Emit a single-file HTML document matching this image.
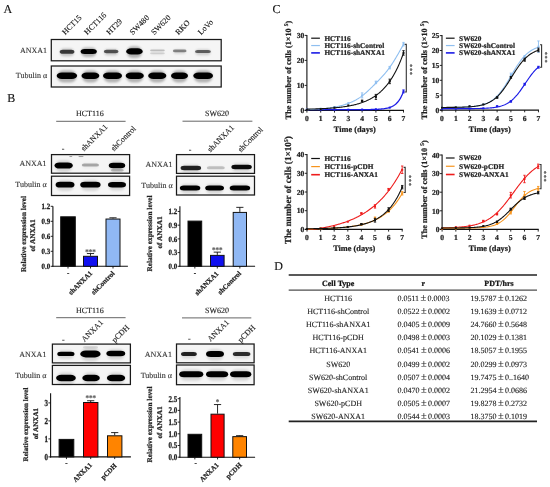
<!DOCTYPE html>
<html><head><meta charset="utf-8"><style>
html,body{margin:0;padding:0;background:#fff;}
svg{display:block;}
text{font-family:'Liberation Serif', 'DejaVu Serif', serif;text-rendering:geometricPrecision;}
</style></head><body>
<svg width="550" height="487" viewBox="0 0 550 487">
<defs><filter id="bl" x="-30%" y="-100%" width="160%" height="300%"><feGaussianBlur stdDeviation="0.65"/></filter><filter id="bl2" x="-30%" y="-100%" width="160%" height="300%"><feGaussianBlur stdDeviation="1.3"/></filter></defs>
<rect width="550" height="487" fill="#fff"/>
<text x="3.60" y="12.80" font-size="12" font-weight="normal" text-anchor="start" fill="#111" stroke="#111" stroke-width="0.12">A</text>
<text x="7.30" y="102.00" font-size="12" font-weight="normal" text-anchor="start" fill="#111" stroke="#111" stroke-width="0.12">B</text>
<text x="272.60" y="12.80" font-size="12" font-weight="normal" text-anchor="start" fill="#111" stroke="#111" stroke-width="0.12">C</text>
<text x="274.20" y="269.80" font-size="12" font-weight="normal" text-anchor="start" fill="#111" stroke="#111" stroke-width="0.12">D</text>
<text x="47.10" y="52.90" font-size="8" font-weight="normal" text-anchor="end" fill="#333" stroke="#333" stroke-width="0.12">ANXA1</text>
<text x="47.10" y="77.60" font-size="8" font-weight="normal" text-anchor="end" fill="#333" stroke="#333" stroke-width="0.12">Tubulin α</text>
<rect x="51.30" y="39.50" width="169.90" height="21.30" fill="#f5f5f5" stroke="#1a1a1a" stroke-width="1.25"/>
<rect x="51.30" y="66.00" width="169.90" height="21.00" fill="#f5f5f5" stroke="#1a1a1a" stroke-width="1.25"/>
<rect x="60.20" y="48.60" width="13.70" height="7.60" rx="3.80" fill="#000" fill-opacity="0.202" filter="url(#bl2)"/>
<rect x="59.70" y="49.70" width="14.70" height="4.00" rx="3.20" ry="2.00" fill="#000" fill-opacity="0.72" filter="url(#bl)"/>
<rect x="81.10" y="47.45" width="15.20" height="9.50" rx="4.75" fill="#000" fill-opacity="0.280" filter="url(#bl2)"/>
<rect x="80.60" y="49.00" width="16.20" height="5.00" rx="4.00" ry="2.50" fill="#000" fill-opacity="1" filter="url(#bl)"/>
<rect x="104.30" y="48.97" width="13.70" height="6.46" rx="3.23" fill="#000" fill-opacity="0.174" filter="url(#bl2)"/>
<rect x="103.80" y="49.80" width="14.70" height="3.40" rx="2.72" ry="1.70" fill="#000" fill-opacity="0.62" filter="url(#bl)"/>
<rect x="126.70" y="46.21" width="15.50" height="11.78" rx="5.89" fill="#000" fill-opacity="0.280" filter="url(#bl2)"/>
<rect x="126.20" y="48.30" width="16.50" height="6.20" rx="4.96" ry="3.10" fill="#000" fill-opacity="1" filter="url(#bl)"/>
<rect x="150.60" y="49.58" width="13.70" height="3.04" rx="1.52" fill="#000" fill-opacity="0.056" filter="url(#bl2)"/>
<rect x="150.10" y="49.60" width="14.70" height="1.60" rx="1.28" ry="0.80" fill="#000" fill-opacity="0.2" filter="url(#bl)"/>
<rect x="150.60" y="52.58" width="13.70" height="3.04" rx="1.52" fill="#000" fill-opacity="0.034" filter="url(#bl2)"/>
<rect x="150.10" y="52.60" width="14.70" height="1.60" rx="1.28" ry="0.80" fill="#000" fill-opacity="0.12" filter="url(#bl)"/>
<rect x="173.40" y="49.13" width="12.60" height="4.94" rx="2.47" fill="#000" fill-opacity="0.118" filter="url(#bl2)"/>
<rect x="172.90" y="49.60" width="13.60" height="2.60" rx="2.08" ry="1.30" fill="#000" fill-opacity="0.42" filter="url(#bl)"/>
<rect x="195.50" y="49.16" width="14.90" height="6.08" rx="3.04" fill="#000" fill-opacity="0.157" filter="url(#bl2)"/>
<rect x="195.00" y="49.90" width="15.90" height="3.20" rx="2.56" ry="1.60" fill="#000" fill-opacity="0.56" filter="url(#bl)"/>
<rect x="57.20" y="70.23" width="19.40" height="12.35" rx="6.17" fill="#000" fill-opacity="0.280" filter="url(#bl2)"/>
<rect x="56.70" y="72.45" width="20.40" height="6.50" rx="5.20" ry="3.25" fill="#000" fill-opacity="1" filter="url(#bl)"/>
<rect x="82.00" y="70.23" width="16.80" height="12.35" rx="6.17" fill="#000" fill-opacity="0.280" filter="url(#bl2)"/>
<rect x="81.50" y="72.45" width="17.80" height="6.50" rx="5.20" ry="3.25" fill="#000" fill-opacity="1" filter="url(#bl)"/>
<rect x="103.50" y="70.23" width="18.00" height="12.35" rx="6.17" fill="#000" fill-opacity="0.280" filter="url(#bl2)"/>
<rect x="103.00" y="72.45" width="19.00" height="6.50" rx="5.20" ry="3.25" fill="#000" fill-opacity="1" filter="url(#bl)"/>
<rect x="126.20" y="70.23" width="17.10" height="12.35" rx="6.17" fill="#000" fill-opacity="0.280" filter="url(#bl2)"/>
<rect x="125.70" y="72.45" width="18.10" height="6.50" rx="5.20" ry="3.25" fill="#000" fill-opacity="1" filter="url(#bl)"/>
<rect x="148.70" y="70.23" width="17.10" height="12.35" rx="6.17" fill="#000" fill-opacity="0.280" filter="url(#bl2)"/>
<rect x="148.20" y="72.45" width="18.10" height="6.50" rx="5.20" ry="3.25" fill="#000" fill-opacity="1" filter="url(#bl)"/>
<rect x="171.50" y="70.23" width="16.00" height="12.35" rx="6.17" fill="#000" fill-opacity="0.280" filter="url(#bl2)"/>
<rect x="171.00" y="72.45" width="17.00" height="6.50" rx="5.20" ry="3.25" fill="#000" fill-opacity="1" filter="url(#bl)"/>
<rect x="193.80" y="70.23" width="18.70" height="12.35" rx="6.17" fill="#000" fill-opacity="0.280" filter="url(#bl2)"/>
<rect x="193.30" y="72.45" width="19.70" height="6.50" rx="5.20" ry="3.25" fill="#000" fill-opacity="1" filter="url(#bl)"/>
<text x="0.00" y="0.00" font-size="8" font-weight="normal" text-anchor="start" fill="#111" transform="translate(65.20,35.20) rotate(-45)" stroke="#111" stroke-width="0.12">HCT15</text>
<text x="0.00" y="0.00" font-size="8" font-weight="normal" text-anchor="start" fill="#111" transform="translate(87.30,35.20) rotate(-45)" stroke="#111" stroke-width="0.12">HCT116</text>
<text x="0.00" y="0.00" font-size="8" font-weight="normal" text-anchor="start" fill="#111" transform="translate(109.50,35.20) rotate(-45)" stroke="#111" stroke-width="0.12">HT29</text>
<text x="0.00" y="0.00" font-size="8" font-weight="normal" text-anchor="start" fill="#111" transform="translate(132.80,35.20) rotate(-45)" stroke="#111" stroke-width="0.12">SW480</text>
<text x="0.00" y="0.00" font-size="8" font-weight="normal" text-anchor="start" fill="#111" transform="translate(154.30,35.20) rotate(-45)" stroke="#111" stroke-width="0.12">SW620</text>
<text x="0.00" y="0.00" font-size="8" font-weight="normal" text-anchor="start" fill="#111" transform="translate(178.40,35.20) rotate(-45)" stroke="#111" stroke-width="0.12">RKO</text>
<text x="0.00" y="0.00" font-size="8" font-weight="normal" text-anchor="start" fill="#111" transform="translate(201.10,35.20) rotate(-45)" stroke="#111" stroke-width="0.12">LoVo</text>
<text x="89.80" y="116.00" font-size="8" font-weight="normal" text-anchor="middle" fill="#222" stroke="#222" stroke-width="0.12">HCT116</text>
<line x1="56.20" y1="121.30" x2="125.60" y2="121.30" stroke="#555" stroke-width="0.9"/>
<text x="63.00" y="150.80" font-size="8" font-weight="normal" text-anchor="middle" fill="#222" stroke="#222" stroke-width="0.12">-</text>
<text x="0.00" y="0.00" font-size="8" font-weight="normal" text-anchor="start" fill="#222" transform="translate(84.00,151.50) rotate(-45)" stroke="#222" stroke-width="0.12">shANXA1</text>
<text x="0.00" y="0.00" font-size="8" font-weight="normal" text-anchor="start" fill="#222" transform="translate(114.00,151.50) rotate(-45)" stroke="#222" stroke-width="0.12">shControl</text>
<text x="46.60" y="166.30" font-size="8" font-weight="normal" text-anchor="end" fill="#333" stroke="#333" stroke-width="0.12">ANXA1</text>
<text x="46.60" y="187.30" font-size="8" font-weight="normal" text-anchor="end" fill="#333" stroke="#333" stroke-width="0.12">Tubulin α</text>
<rect x="51.50" y="154.60" width="78.10" height="18.60" fill="#f5f5f5" stroke="#1a1a1a" stroke-width="1.25"/>
<rect x="51.50" y="176.20" width="78.10" height="19.30" fill="#f5f5f5" stroke="#1a1a1a" stroke-width="1.25"/>
<rect x="55.00" y="160.31" width="17.30" height="11.78" rx="5.89" fill="#000" fill-opacity="0.130" filter="url(#bl2)"/>
<rect x="54.50" y="162.40" width="18.30" height="6.20" rx="4.96" ry="3.10" fill="#000" fill-opacity="1" filter="url(#bl)"/>
<rect x="82.30" y="162.85" width="16.20" height="5.70" rx="2.85" fill="#000" fill-opacity="0.039" filter="url(#bl2)"/>
<rect x="81.80" y="163.50" width="17.20" height="3.00" rx="2.40" ry="1.50" fill="#000" fill-opacity="0.3" filter="url(#bl)"/>
<rect x="109.30" y="160.97" width="15.40" height="10.45" rx="5.22" fill="#000" fill-opacity="0.130" filter="url(#bl2)"/>
<rect x="108.80" y="162.75" width="16.40" height="5.50" rx="4.40" ry="2.75" fill="#000" fill-opacity="1" filter="url(#bl)"/>
<rect x="111.50" y="168.52" width="11.50" height="4.75" rx="2.38" fill="#000" fill-opacity="0.026" filter="url(#bl2)"/>
<rect x="111.00" y="168.95" width="12.50" height="2.50" rx="2.00" ry="1.25" fill="#000" fill-opacity="0.2" filter="url(#bl)"/>
<rect x="69.80" y="156.35" width="2.00" height="1.90" rx="0.95" fill="#000" fill-opacity="0.045" filter="url(#bl2)"/>
<rect x="69.30" y="156.10" width="3.00" height="1.00" rx="0.80" ry="0.50" fill="#000" fill-opacity="0.35" filter="url(#bl)"/>
<rect x="79.00" y="156.35" width="4.00" height="1.90" rx="0.95" fill="#000" fill-opacity="0.045" filter="url(#bl2)"/>
<rect x="78.50" y="156.10" width="5.00" height="1.00" rx="0.80" ry="0.50" fill="#000" fill-opacity="0.35" filter="url(#bl)"/>
<rect x="56.10" y="179.89" width="17.90" height="11.02" rx="5.51" fill="#000" fill-opacity="0.130" filter="url(#bl2)"/>
<rect x="55.60" y="181.80" width="18.90" height="5.80" rx="4.64" ry="2.90" fill="#000" fill-opacity="1" filter="url(#bl)"/>
<rect x="80.70" y="179.89" width="19.40" height="11.02" rx="5.51" fill="#000" fill-opacity="0.130" filter="url(#bl2)"/>
<rect x="80.20" y="181.80" width="20.40" height="5.80" rx="4.64" ry="2.90" fill="#000" fill-opacity="1" filter="url(#bl)"/>
<rect x="108.50" y="180.17" width="17.00" height="10.45" rx="5.22" fill="#000" fill-opacity="0.130" filter="url(#bl2)"/>
<rect x="108.00" y="181.95" width="18.00" height="5.50" rx="4.40" ry="2.75" fill="#000" fill-opacity="1" filter="url(#bl)"/>
<text x="217.00" y="116.40" font-size="8" font-weight="normal" text-anchor="middle" fill="#222" stroke="#222" stroke-width="0.12">SW620</text>
<line x1="182.50" y1="121.20" x2="252.40" y2="121.20" stroke="#555" stroke-width="0.9"/>
<text x="190.20" y="151.70" font-size="8" font-weight="normal" text-anchor="middle" fill="#222" stroke="#222" stroke-width="0.12">-</text>
<text x="0.00" y="0.00" font-size="8" font-weight="normal" text-anchor="start" fill="#222" transform="translate(210.50,152.40) rotate(-45)" stroke="#222" stroke-width="0.12">shANXA1</text>
<text x="0.00" y="0.00" font-size="8" font-weight="normal" text-anchor="start" fill="#222" transform="translate(241.00,152.40) rotate(-45)" stroke="#222" stroke-width="0.12">shControl</text>
<text x="172.60" y="166.70" font-size="8" font-weight="normal" text-anchor="end" fill="#333" stroke="#333" stroke-width="0.12">ANXA1</text>
<text x="172.60" y="187.60" font-size="8" font-weight="normal" text-anchor="end" fill="#333" stroke="#333" stroke-width="0.12">Tubulin α</text>
<rect x="176.50" y="154.60" width="78.00" height="18.80" fill="#f5f5f5" stroke="#1a1a1a" stroke-width="1.25"/>
<rect x="176.50" y="176.20" width="78.00" height="18.80" fill="#f5f5f5" stroke="#1a1a1a" stroke-width="1.25"/>
<rect x="181.10" y="164.42" width="19.50" height="8.55" rx="4.27" fill="#000" fill-opacity="0.111" filter="url(#bl2)"/>
<rect x="180.60" y="165.75" width="20.50" height="4.50" rx="3.60" ry="2.25" fill="#000" fill-opacity="0.85" filter="url(#bl)"/>
<rect x="207.30" y="165.55" width="17.00" height="5.70" rx="2.85" fill="#000" fill-opacity="0.026" filter="url(#bl2)"/>
<rect x="206.80" y="166.20" width="18.00" height="3.00" rx="2.40" ry="1.50" fill="#000" fill-opacity="0.2" filter="url(#bl)"/>
<rect x="231.90" y="163.32" width="19.40" height="8.55" rx="4.27" fill="#000" fill-opacity="0.123" filter="url(#bl2)"/>
<rect x="231.40" y="164.65" width="20.40" height="4.50" rx="3.60" ry="2.25" fill="#000" fill-opacity="0.95" filter="url(#bl)"/>
<rect x="180.30" y="183.95" width="19.50" height="9.50" rx="4.75" fill="#000" fill-opacity="0.130" filter="url(#bl2)"/>
<rect x="179.80" y="185.50" width="20.50" height="5.00" rx="4.00" ry="2.50" fill="#000" fill-opacity="1" filter="url(#bl)"/>
<rect x="205.70" y="183.95" width="17.80" height="9.50" rx="4.75" fill="#000" fill-opacity="0.130" filter="url(#bl2)"/>
<rect x="205.20" y="185.50" width="18.80" height="5.00" rx="4.00" ry="2.50" fill="#000" fill-opacity="1" filter="url(#bl)"/>
<rect x="230.20" y="183.95" width="19.50" height="9.50" rx="4.75" fill="#000" fill-opacity="0.130" filter="url(#bl2)"/>
<rect x="229.70" y="185.50" width="20.50" height="5.00" rx="4.00" ry="2.50" fill="#000" fill-opacity="1" filter="url(#bl)"/>
<text x="89.80" y="313.10" font-size="8" font-weight="normal" text-anchor="middle" fill="#222" stroke="#222" stroke-width="0.12">HCT116</text>
<line x1="56.20" y1="317.70" x2="125.60" y2="317.70" stroke="#555" stroke-width="0.9"/>
<text x="63.40" y="341.60" font-size="8" font-weight="normal" text-anchor="middle" fill="#222" stroke="#222" stroke-width="0.12">-</text>
<text x="0.00" y="0.00" font-size="8" font-weight="normal" text-anchor="start" fill="#222" transform="translate(84.50,342.20) rotate(-45)" stroke="#222" stroke-width="0.12">ANXA1</text>
<text x="0.00" y="0.00" font-size="8" font-weight="normal" text-anchor="start" fill="#222" transform="translate(115.00,342.90) rotate(-45)" stroke="#222" stroke-width="0.12">pCDH</text>
<text x="46.40" y="356.50" font-size="8" font-weight="normal" text-anchor="end" fill="#333" stroke="#333" stroke-width="0.12">ANXA1</text>
<text x="46.40" y="377.80" font-size="8" font-weight="normal" text-anchor="end" fill="#333" stroke="#333" stroke-width="0.12">Tubulin α</text>
<rect x="52.40" y="344.10" width="78.00" height="18.80" fill="#f5f5f5" stroke="#1a1a1a" stroke-width="1.25"/>
<rect x="52.40" y="365.40" width="78.00" height="19.10" fill="#f5f5f5" stroke="#1a1a1a" stroke-width="1.25"/>
<rect x="57.80" y="350.42" width="16.20" height="8.36" rx="4.18" fill="#000" fill-opacity="0.130" filter="url(#bl2)"/>
<rect x="57.30" y="351.70" width="17.20" height="4.40" rx="3.52" ry="2.20" fill="#000" fill-opacity="1" filter="url(#bl)"/>
<rect x="80.70" y="347.95" width="19.40" height="13.30" rx="6.65" fill="#000" fill-opacity="0.130" filter="url(#bl2)"/>
<rect x="80.20" y="350.40" width="20.40" height="7.00" rx="5.60" ry="3.50" fill="#000" fill-opacity="1" filter="url(#bl)"/>
<rect x="106.90" y="349.07" width="17.80" height="10.45" rx="5.22" fill="#000" fill-opacity="0.130" filter="url(#bl2)"/>
<rect x="106.40" y="350.85" width="18.80" height="5.50" rx="4.40" ry="2.75" fill="#000" fill-opacity="1" filter="url(#bl)"/>
<rect x="83.50" y="345.62" width="14.00" height="4.75" rx="2.38" fill="#000" fill-opacity="0.013" filter="url(#bl2)"/>
<rect x="83.00" y="346.05" width="15.00" height="2.50" rx="2.00" ry="1.25" fill="#000" fill-opacity="0.1" filter="url(#bl)"/>
<rect x="56.60" y="372.52" width="18.70" height="12.35" rx="6.17" fill="#000" fill-opacity="0.130" filter="url(#bl2)"/>
<rect x="56.10" y="374.75" width="19.70" height="6.50" rx="5.20" ry="3.25" fill="#000" fill-opacity="1" filter="url(#bl)"/>
<rect x="82.80" y="372.52" width="16.50" height="12.35" rx="6.17" fill="#000" fill-opacity="0.130" filter="url(#bl2)"/>
<rect x="82.30" y="374.75" width="17.50" height="6.50" rx="5.20" ry="3.25" fill="#000" fill-opacity="1" filter="url(#bl)"/>
<rect x="107.40" y="372.52" width="17.30" height="12.35" rx="6.17" fill="#000" fill-opacity="0.130" filter="url(#bl2)"/>
<rect x="106.90" y="374.75" width="18.30" height="6.50" rx="5.20" ry="3.25" fill="#000" fill-opacity="1" filter="url(#bl)"/>
<text x="217.00" y="313.30" font-size="8" font-weight="normal" text-anchor="middle" fill="#222" stroke="#222" stroke-width="0.12">SW620</text>
<line x1="182.00" y1="317.90" x2="251.30" y2="317.90" stroke="#555" stroke-width="0.9"/>
<text x="189.40" y="341.20" font-size="8" font-weight="normal" text-anchor="middle" fill="#222" stroke="#222" stroke-width="0.12">-</text>
<text x="0.00" y="0.00" font-size="8" font-weight="normal" text-anchor="start" fill="#222" transform="translate(210.50,342.10) rotate(-45)" stroke="#222" stroke-width="0.12">ANXA1</text>
<text x="0.00" y="0.00" font-size="8" font-weight="normal" text-anchor="start" fill="#222" transform="translate(241.00,342.90) rotate(-45)" stroke="#222" stroke-width="0.12">pCDH</text>
<text x="171.90" y="356.90" font-size="8" font-weight="normal" text-anchor="end" fill="#333" stroke="#333" stroke-width="0.12">ANXA1</text>
<text x="171.90" y="377.90" font-size="8" font-weight="normal" text-anchor="end" fill="#333" stroke="#333" stroke-width="0.12">Tubulin α</text>
<rect x="176.50" y="344.00" width="77.60" height="18.80" fill="#f5f5f5" stroke="#1a1a1a" stroke-width="1.25"/>
<rect x="176.50" y="365.00" width="77.60" height="19.70" fill="#f5f5f5" stroke="#1a1a1a" stroke-width="1.25"/>
<rect x="181.50" y="350.90" width="14.80" height="7.60" rx="3.80" fill="#000" fill-opacity="0.111" filter="url(#bl2)"/>
<rect x="181.00" y="352.00" width="15.80" height="4.00" rx="3.20" ry="2.00" fill="#000" fill-opacity="0.85" filter="url(#bl)"/>
<rect x="206.50" y="349.00" width="17.00" height="11.40" rx="5.70" fill="#000" fill-opacity="0.130" filter="url(#bl2)"/>
<rect x="206.00" y="351.00" width="18.00" height="6.00" rx="4.80" ry="3.00" fill="#000" fill-opacity="1" filter="url(#bl)"/>
<rect x="233.30" y="350.90" width="16.60" height="7.60" rx="3.80" fill="#000" fill-opacity="0.104" filter="url(#bl2)"/>
<rect x="232.80" y="352.00" width="17.60" height="4.00" rx="3.20" ry="2.00" fill="#000" fill-opacity="0.8" filter="url(#bl)"/>
<rect x="179.70" y="369.30" width="23.10" height="11.40" rx="5.70" fill="#000" fill-opacity="0.130" filter="url(#bl2)"/>
<rect x="179.20" y="371.30" width="24.10" height="6.00" rx="4.80" ry="3.00" fill="#000" fill-opacity="1" filter="url(#bl)"/>
<rect x="206.50" y="369.30" width="21.20" height="11.40" rx="5.70" fill="#000" fill-opacity="0.130" filter="url(#bl2)"/>
<rect x="206.00" y="371.30" width="22.20" height="6.00" rx="4.80" ry="3.00" fill="#000" fill-opacity="1" filter="url(#bl)"/>
<rect x="230.50" y="369.30" width="20.30" height="11.40" rx="5.70" fill="#000" fill-opacity="0.130" filter="url(#bl2)"/>
<rect x="230.00" y="371.30" width="21.30" height="6.00" rx="4.80" ry="3.00" fill="#000" fill-opacity="1" filter="url(#bl)"/>
<line x1="52.90" y1="206.20" x2="52.90" y2="266.80" stroke="#111" stroke-width="1.1"/>
<line x1="52.40" y1="266.30" x2="127.90" y2="266.30" stroke="#111" stroke-width="1.1"/>
<line x1="50.70" y1="266.30" x2="52.90" y2="266.30" stroke="#111" stroke-width="0.9"/>
<text x="0.00" y="0.00" font-size="7" font-weight="bold" text-anchor="end" fill="#222" transform="translate(50.30,268.94) scale(1,1.15)" stroke="#222" stroke-width="0.22">0.0</text>
<line x1="50.70" y1="251.30" x2="52.90" y2="251.30" stroke="#111" stroke-width="0.9"/>
<text x="0.00" y="0.00" font-size="7" font-weight="bold" text-anchor="end" fill="#222" transform="translate(50.30,253.95) scale(1,1.15)" stroke="#222" stroke-width="0.22">0.3</text>
<line x1="50.70" y1="236.30" x2="52.90" y2="236.30" stroke="#111" stroke-width="0.9"/>
<text x="0.00" y="0.00" font-size="7" font-weight="bold" text-anchor="end" fill="#222" transform="translate(50.30,238.95) scale(1,1.15)" stroke="#222" stroke-width="0.22">0.6</text>
<line x1="50.70" y1="221.30" x2="52.90" y2="221.30" stroke="#111" stroke-width="0.9"/>
<text x="0.00" y="0.00" font-size="7" font-weight="bold" text-anchor="end" fill="#222" transform="translate(50.30,223.95) scale(1,1.15)" stroke="#222" stroke-width="0.22">0.9</text>
<line x1="50.70" y1="206.30" x2="52.90" y2="206.30" stroke="#111" stroke-width="0.9"/>
<text x="0.00" y="0.00" font-size="7" font-weight="bold" text-anchor="end" fill="#222" transform="translate(50.30,208.95) scale(1,1.15)" stroke="#222" stroke-width="0.22">1.2</text>
<rect x="60.70" y="216.80" width="14.60" height="49.50" fill="#000" stroke="#111" stroke-width="1"/>
<line x1="68.00" y1="266.30" x2="68.00" y2="268.50" stroke="#111" stroke-width="0.9"/>
<line x1="90.50" y1="255.80" x2="90.50" y2="253.55" stroke="#111" stroke-width="0.9"/>
<line x1="86.90" y1="253.55" x2="94.10" y2="253.55" stroke="#111" stroke-width="0.9"/>
<rect x="83.50" y="256.30" width="14.00" height="10.00" fill="#1010f0" stroke="#111" stroke-width="1"/>
<line x1="90.50" y1="266.30" x2="90.50" y2="268.50" stroke="#111" stroke-width="0.9"/>
<line x1="113.00" y1="218.55" x2="113.00" y2="217.80" stroke="#111" stroke-width="0.9"/>
<line x1="109.40" y1="217.80" x2="116.60" y2="217.80" stroke="#111" stroke-width="0.9"/>
<rect x="106.00" y="219.05" width="14.00" height="47.25" fill="#90b8f4" stroke="#111" stroke-width="1"/>
<line x1="113.00" y1="266.30" x2="113.00" y2="268.50" stroke="#111" stroke-width="0.9"/>
<text x="68.20" y="274.50" font-size="7" font-weight="bold" text-anchor="middle" fill="#222" stroke="#222" stroke-width="0.22">-</text>
<text x="0.00" y="0.00" font-size="7.0" font-weight="bold" text-anchor="end" fill="#222" transform="translate(92.70,273.80) rotate(-45)" stroke="#222" stroke-width="0.22">shANXA1</text>
<text x="0.00" y="0.00" font-size="7.0" font-weight="bold" text-anchor="end" fill="#222" transform="translate(115.20,273.80) rotate(-45)" stroke="#222" stroke-width="0.22">shControl</text>
<text x="0.00" y="0.00" font-size="7.3" font-weight="bold" text-anchor="middle" fill="#222" transform="translate(25.50,234.00) rotate(-90)" stroke="#222" stroke-width="0.22">Relative expression level</text>
<text x="0.00" y="0.00" font-size="7.3" font-weight="bold" text-anchor="middle" fill="#222" transform="translate(35.00,235.50) rotate(-90)" stroke="#222" stroke-width="0.22">of ANXA1</text>
<text x="90.50" y="254.20" font-size="7" font-weight="bold" text-anchor="middle" fill="#666" stroke="#666" stroke-width="0.22">***</text>
<line x1="179.90" y1="206.30" x2="179.90" y2="266.80" stroke="#111" stroke-width="1.1"/>
<line x1="179.40" y1="266.30" x2="255.10" y2="266.30" stroke="#111" stroke-width="1.1"/>
<line x1="177.70" y1="266.30" x2="179.90" y2="266.30" stroke="#111" stroke-width="0.9"/>
<text x="0.00" y="0.00" font-size="7" font-weight="bold" text-anchor="end" fill="#222" transform="translate(177.30,268.94) scale(1,1.15)" stroke="#222" stroke-width="0.22">0.0</text>
<line x1="177.70" y1="252.59" x2="179.90" y2="252.59" stroke="#111" stroke-width="0.9"/>
<text x="0.00" y="0.00" font-size="7" font-weight="bold" text-anchor="end" fill="#222" transform="translate(177.30,255.24) scale(1,1.15)" stroke="#222" stroke-width="0.22">0.3</text>
<line x1="177.70" y1="238.88" x2="179.90" y2="238.88" stroke="#111" stroke-width="0.9"/>
<text x="0.00" y="0.00" font-size="7" font-weight="bold" text-anchor="end" fill="#222" transform="translate(177.30,241.53) scale(1,1.15)" stroke="#222" stroke-width="0.22">0.6</text>
<line x1="177.70" y1="225.17" x2="179.90" y2="225.17" stroke="#111" stroke-width="0.9"/>
<text x="0.00" y="0.00" font-size="7" font-weight="bold" text-anchor="end" fill="#222" transform="translate(177.30,227.82) scale(1,1.15)" stroke="#222" stroke-width="0.22">0.9</text>
<line x1="177.70" y1="211.46" x2="179.90" y2="211.46" stroke="#111" stroke-width="0.9"/>
<text x="0.00" y="0.00" font-size="7" font-weight="bold" text-anchor="end" fill="#222" transform="translate(177.30,214.11) scale(1,1.15)" stroke="#222" stroke-width="0.22">1.2</text>
<rect x="188.00" y="221.10" width="13.70" height="45.20" fill="#000" stroke="#111" stroke-width="1"/>
<line x1="194.85" y1="266.30" x2="194.85" y2="268.50" stroke="#111" stroke-width="0.9"/>
<line x1="217.30" y1="254.88" x2="217.30" y2="252.13" stroke="#111" stroke-width="0.9"/>
<line x1="213.70" y1="252.13" x2="220.90" y2="252.13" stroke="#111" stroke-width="0.9"/>
<rect x="210.50" y="255.38" width="13.60" height="10.93" fill="#1010f0" stroke="#111" stroke-width="1"/>
<line x1="217.30" y1="266.30" x2="217.30" y2="268.50" stroke="#111" stroke-width="0.9"/>
<line x1="239.85" y1="211.92" x2="239.85" y2="207.35" stroke="#111" stroke-width="0.9"/>
<line x1="236.25" y1="207.35" x2="243.45" y2="207.35" stroke="#111" stroke-width="0.9"/>
<rect x="233.20" y="212.42" width="13.30" height="53.88" fill="#90b8f4" stroke="#111" stroke-width="1"/>
<line x1="239.85" y1="266.30" x2="239.85" y2="268.50" stroke="#111" stroke-width="0.9"/>
<text x="195.00" y="274.50" font-size="7" font-weight="bold" text-anchor="middle" fill="#222" stroke="#222" stroke-width="0.22">-</text>
<text x="0.00" y="0.00" font-size="7.0" font-weight="bold" text-anchor="end" fill="#222" transform="translate(219.00,274.30) rotate(-45)" stroke="#222" stroke-width="0.22">shANXA1</text>
<text x="0.00" y="0.00" font-size="7.0" font-weight="bold" text-anchor="end" fill="#222" transform="translate(241.70,273.80) rotate(-45)" stroke="#222" stroke-width="0.22">shControl</text>
<text x="0.00" y="0.00" font-size="7.3" font-weight="bold" text-anchor="middle" fill="#222" transform="translate(152.30,233.50) rotate(-90)" stroke="#222" stroke-width="0.22">Relative expression level</text>
<text x="0.00" y="0.00" font-size="7.3" font-weight="bold" text-anchor="middle" fill="#222" transform="translate(162.00,232.50) rotate(-90)" stroke="#222" stroke-width="0.22">of ANXA1</text>
<text x="217.30" y="252.00" font-size="7" font-weight="bold" text-anchor="middle" fill="#666" stroke="#666" stroke-width="0.22">***</text>
<line x1="50.60" y1="393.30" x2="50.60" y2="457.40" stroke="#111" stroke-width="1.1"/>
<line x1="50.10" y1="456.90" x2="130.90" y2="456.90" stroke="#111" stroke-width="1.1"/>
<line x1="48.40" y1="456.90" x2="50.60" y2="456.90" stroke="#111" stroke-width="0.9"/>
<text x="0.00" y="0.00" font-size="7" font-weight="bold" text-anchor="end" fill="#222" transform="translate(48.00,459.89) scale(1,1.3)" stroke="#222" stroke-width="0.22">0</text>
<line x1="48.40" y1="438.90" x2="50.60" y2="438.90" stroke="#111" stroke-width="0.9"/>
<text x="0.00" y="0.00" font-size="7" font-weight="bold" text-anchor="end" fill="#222" transform="translate(48.00,441.89) scale(1,1.3)" stroke="#222" stroke-width="0.22">1</text>
<line x1="48.40" y1="420.90" x2="50.60" y2="420.90" stroke="#111" stroke-width="0.9"/>
<text x="0.00" y="0.00" font-size="7" font-weight="bold" text-anchor="end" fill="#222" transform="translate(48.00,423.89) scale(1,1.3)" stroke="#222" stroke-width="0.22">2</text>
<line x1="48.40" y1="402.90" x2="50.60" y2="402.90" stroke="#111" stroke-width="0.9"/>
<text x="0.00" y="0.00" font-size="7" font-weight="bold" text-anchor="end" fill="#222" transform="translate(48.00,405.89) scale(1,1.3)" stroke="#222" stroke-width="0.22">3</text>
<rect x="59.10" y="439.40" width="14.70" height="17.50" fill="#000" stroke="#111" stroke-width="1"/>
<line x1="66.45" y1="456.90" x2="66.45" y2="459.10" stroke="#111" stroke-width="0.9"/>
<line x1="90.70" y1="402.00" x2="90.70" y2="400.74" stroke="#111" stroke-width="0.9"/>
<line x1="87.10" y1="400.74" x2="94.30" y2="400.74" stroke="#111" stroke-width="0.9"/>
<rect x="83.50" y="402.50" width="14.40" height="54.40" fill="#ff0000" stroke="#111" stroke-width="1"/>
<line x1="90.70" y1="456.90" x2="90.70" y2="459.10" stroke="#111" stroke-width="0.9"/>
<line x1="114.70" y1="435.30" x2="114.70" y2="432.60" stroke="#111" stroke-width="0.9"/>
<line x1="111.10" y1="432.60" x2="118.30" y2="432.60" stroke="#111" stroke-width="0.9"/>
<rect x="107.50" y="435.80" width="14.40" height="21.10" fill="#ff8400" stroke="#111" stroke-width="1"/>
<line x1="114.70" y1="456.90" x2="114.70" y2="459.10" stroke="#111" stroke-width="0.9"/>
<text x="66.30" y="464.50" font-size="7" font-weight="bold" text-anchor="middle" fill="#222" stroke="#222" stroke-width="0.22">-</text>
<text x="0.00" y="0.00" font-size="7.0" font-weight="bold" text-anchor="end" fill="#222" transform="translate(92.50,465.60) rotate(-45)" stroke="#222" stroke-width="0.22">ANXA1</text>
<text x="0.00" y="0.00" font-size="7.0" font-weight="bold" text-anchor="end" fill="#222" transform="translate(117.20,466.20) rotate(-45)" stroke="#222" stroke-width="0.22">pCDH</text>
<text x="0.00" y="0.00" font-size="7.1" font-weight="bold" text-anchor="middle" fill="#222" transform="translate(27.50,424.50) rotate(-90)" stroke="#222" stroke-width="0.22">Relative expression level</text>
<text x="0.00" y="0.00" font-size="7.1" font-weight="bold" text-anchor="middle" fill="#222" transform="translate(37.80,423.50) rotate(-90)" stroke="#222" stroke-width="0.22">of ANXA1</text>
<text x="90.70" y="400.00" font-size="7" font-weight="bold" text-anchor="middle" fill="#666" stroke="#666" stroke-width="0.22">***</text>
<line x1="179.90" y1="397.00" x2="179.90" y2="457.70" stroke="#111" stroke-width="1.1"/>
<line x1="179.40" y1="457.20" x2="255.10" y2="457.20" stroke="#111" stroke-width="1.1"/>
<line x1="177.70" y1="457.20" x2="179.90" y2="457.20" stroke="#111" stroke-width="0.9"/>
<text x="0.00" y="0.00" font-size="7" font-weight="bold" text-anchor="end" fill="#222" transform="translate(177.30,460.07) scale(1,1.25)" stroke="#222" stroke-width="0.22">0.0</text>
<line x1="177.70" y1="445.50" x2="179.90" y2="445.50" stroke="#111" stroke-width="0.9"/>
<text x="0.00" y="0.00" font-size="7" font-weight="bold" text-anchor="end" fill="#222" transform="translate(177.30,448.38) scale(1,1.25)" stroke="#222" stroke-width="0.22">0.5</text>
<line x1="177.70" y1="433.80" x2="179.90" y2="433.80" stroke="#111" stroke-width="0.9"/>
<text x="0.00" y="0.00" font-size="7" font-weight="bold" text-anchor="end" fill="#222" transform="translate(177.30,436.68) scale(1,1.25)" stroke="#222" stroke-width="0.22">1.0</text>
<line x1="177.70" y1="422.10" x2="179.90" y2="422.10" stroke="#111" stroke-width="0.9"/>
<text x="0.00" y="0.00" font-size="7" font-weight="bold" text-anchor="end" fill="#222" transform="translate(177.30,424.98) scale(1,1.25)" stroke="#222" stroke-width="0.22">1.5</text>
<line x1="177.70" y1="410.40" x2="179.90" y2="410.40" stroke="#111" stroke-width="0.9"/>
<text x="0.00" y="0.00" font-size="7" font-weight="bold" text-anchor="end" fill="#222" transform="translate(177.30,413.27) scale(1,1.25)" stroke="#222" stroke-width="0.22">2.0</text>
<line x1="177.70" y1="398.70" x2="179.90" y2="398.70" stroke="#111" stroke-width="0.9"/>
<text x="0.00" y="0.00" font-size="7" font-weight="bold" text-anchor="end" fill="#222" transform="translate(177.30,401.57) scale(1,1.25)" stroke="#222" stroke-width="0.22">2.5</text>
<rect x="188.00" y="434.30" width="13.70" height="22.90" fill="#000" stroke="#111" stroke-width="1"/>
<line x1="194.85" y1="457.20" x2="194.85" y2="459.40" stroke="#111" stroke-width="0.9"/>
<line x1="217.55" y1="413.68" x2="217.55" y2="404.55" stroke="#111" stroke-width="0.9"/>
<line x1="213.95" y1="404.55" x2="221.15" y2="404.55" stroke="#111" stroke-width="0.9"/>
<rect x="211.00" y="414.18" width="13.10" height="43.02" fill="#ff0000" stroke="#111" stroke-width="1"/>
<line x1="217.55" y1="457.20" x2="217.55" y2="459.40" stroke="#111" stroke-width="0.9"/>
<line x1="239.65" y1="436.14" x2="239.65" y2="435.67" stroke="#111" stroke-width="0.9"/>
<line x1="236.05" y1="435.67" x2="243.25" y2="435.67" stroke="#111" stroke-width="0.9"/>
<rect x="232.80" y="436.64" width="13.70" height="20.56" fill="#ff8400" stroke="#111" stroke-width="1"/>
<line x1="239.65" y1="457.20" x2="239.65" y2="459.40" stroke="#111" stroke-width="0.9"/>
<text x="195.60" y="465.00" font-size="7" font-weight="bold" text-anchor="middle" fill="#222" stroke="#222" stroke-width="0.22">-</text>
<text x="0.00" y="0.00" font-size="7.0" font-weight="bold" text-anchor="end" fill="#222" transform="translate(219.20,465.50) rotate(-45)" stroke="#222" stroke-width="0.22">ANXA1</text>
<text x="0.00" y="0.00" font-size="7.0" font-weight="bold" text-anchor="end" fill="#222" transform="translate(242.30,465.50) rotate(-45)" stroke="#222" stroke-width="0.22">pCDH</text>
<text x="0.00" y="0.00" font-size="7.3" font-weight="bold" text-anchor="middle" fill="#222" transform="translate(152.30,424.50) rotate(-90)" stroke="#222" stroke-width="0.22">Relative expression level</text>
<text x="0.00" y="0.00" font-size="7.3" font-weight="bold" text-anchor="middle" fill="#222" transform="translate(162.00,422.50) rotate(-90)" stroke="#222" stroke-width="0.22">of ANXA1</text>
<text x="217.50" y="403.50" font-size="7" font-weight="bold" text-anchor="middle" fill="#666" stroke="#666" stroke-width="0.22">*</text>
<line x1="306.90" y1="34.90" x2="306.90" y2="110.90" stroke="#111" stroke-width="1.1"/>
<line x1="304.70" y1="110.40" x2="404.00" y2="110.40" stroke="#111" stroke-width="1.1"/>
<line x1="304.70" y1="110.40" x2="306.90" y2="110.40" stroke="#111" stroke-width="0.9"/>
<text x="304.30" y="113.10" font-size="7.6" font-weight="bold" text-anchor="end" fill="#222" stroke="#222" stroke-width="0.22">0</text>
<line x1="304.70" y1="85.40" x2="306.90" y2="85.40" stroke="#111" stroke-width="0.9"/>
<text x="304.30" y="88.10" font-size="7.6" font-weight="bold" text-anchor="end" fill="#222" stroke="#222" stroke-width="0.22">10</text>
<line x1="304.70" y1="60.40" x2="306.90" y2="60.40" stroke="#111" stroke-width="0.9"/>
<text x="304.30" y="63.10" font-size="7.6" font-weight="bold" text-anchor="end" fill="#222" stroke="#222" stroke-width="0.22">20</text>
<line x1="304.70" y1="35.40" x2="306.90" y2="35.40" stroke="#111" stroke-width="0.9"/>
<text x="304.30" y="38.10" font-size="7.6" font-weight="bold" text-anchor="end" fill="#222" stroke="#222" stroke-width="0.22">30</text>
<line x1="306.90" y1="110.40" x2="306.90" y2="112.60" stroke="#111" stroke-width="0.9"/>
<text x="306.90" y="121.00" font-size="7.6" font-weight="bold" text-anchor="middle" fill="#222" stroke="#222" stroke-width="0.22">0</text>
<line x1="320.70" y1="110.40" x2="320.70" y2="112.60" stroke="#111" stroke-width="0.9"/>
<text x="320.70" y="121.00" font-size="7.6" font-weight="bold" text-anchor="middle" fill="#222" stroke="#222" stroke-width="0.22">1</text>
<line x1="334.50" y1="110.40" x2="334.50" y2="112.60" stroke="#111" stroke-width="0.9"/>
<text x="334.50" y="121.00" font-size="7.6" font-weight="bold" text-anchor="middle" fill="#222" stroke="#222" stroke-width="0.22">2</text>
<line x1="348.30" y1="110.40" x2="348.30" y2="112.60" stroke="#111" stroke-width="0.9"/>
<text x="348.30" y="121.00" font-size="7.6" font-weight="bold" text-anchor="middle" fill="#222" stroke="#222" stroke-width="0.22">3</text>
<line x1="362.10" y1="110.40" x2="362.10" y2="112.60" stroke="#111" stroke-width="0.9"/>
<text x="362.10" y="121.00" font-size="7.6" font-weight="bold" text-anchor="middle" fill="#222" stroke="#222" stroke-width="0.22">4</text>
<line x1="375.90" y1="110.40" x2="375.90" y2="112.60" stroke="#111" stroke-width="0.9"/>
<text x="375.90" y="121.00" font-size="7.6" font-weight="bold" text-anchor="middle" fill="#222" stroke="#222" stroke-width="0.22">5</text>
<line x1="389.70" y1="110.40" x2="389.70" y2="112.60" stroke="#111" stroke-width="0.9"/>
<text x="389.70" y="121.00" font-size="7.6" font-weight="bold" text-anchor="middle" fill="#222" stroke="#222" stroke-width="0.22">6</text>
<line x1="403.50" y1="110.40" x2="403.50" y2="112.60" stroke="#111" stroke-width="0.9"/>
<text x="403.50" y="121.00" font-size="7.6" font-weight="bold" text-anchor="middle" fill="#222" stroke="#222" stroke-width="0.22">7</text>
<text x="354.80" y="132.00" font-size="8.3" font-weight="bold" text-anchor="middle" fill="#222" stroke="#222" stroke-width="0.22">Time (days)</text>
<polyline points="306.90,109.65 307.59,109.65 308.28,109.65 308.97,109.65 309.66,109.65 310.35,109.65 311.04,109.65 311.73,109.65 312.42,109.65 313.11,109.65 313.80,109.65 314.49,109.65 315.18,109.65 315.87,109.65 316.56,109.65 317.25,109.65 317.94,109.65 318.63,109.65 319.32,109.65 320.01,109.65 320.70,109.65 321.39,109.65 322.08,109.65 322.77,109.65 323.46,109.65 324.15,109.65 324.84,109.65 325.53,109.65 326.22,109.65 326.91,109.65 327.60,109.65 328.29,109.65 328.98,109.65 329.67,109.65 330.36,109.65 331.05,109.65 331.74,109.65 332.43,109.65 333.12,109.65 333.81,109.65 334.50,109.65 335.19,109.65 335.88,109.65 336.57,109.65 337.26,109.65 337.95,109.65 338.64,109.65 339.33,109.65 340.02,109.65 340.71,109.65 341.40,109.65 342.09,109.65 342.78,109.65 343.47,109.65 344.16,109.65 344.85,109.65 345.54,109.65 346.23,109.65 346.92,109.65 347.61,109.65 348.30,109.65 348.99,109.65 349.68,109.64 350.37,109.64 351.06,109.64 351.75,109.64 352.44,109.64 353.13,109.64 353.82,109.64 354.51,109.64 355.20,109.64 355.89,109.64 356.58,109.64 357.27,109.63 357.96,109.63 358.65,109.63 359.34,109.63 360.03,109.63 360.72,109.62 361.41,109.62 362.10,109.62 362.79,109.61 363.48,109.61 364.17,109.60 364.86,109.60 365.55,109.59 366.24,109.59 366.93,109.58 367.62,109.57 368.31,109.56 369.00,109.55 369.69,109.54 370.38,109.53 371.07,109.52 371.76,109.50 372.45,109.49 373.14,109.47 373.83,109.45 374.52,109.43 375.21,109.40 375.90,109.38 376.59,109.35 377.28,109.31 377.97,109.28 378.66,109.23 379.35,109.19 380.04,109.14 380.73,109.08 381.42,109.02 382.11,108.95 382.80,108.87 383.49,108.78 384.18,108.69 384.87,108.58 385.56,108.46 386.25,108.33 386.94,108.18 387.63,108.02 388.32,107.84 389.01,107.64 389.70,107.42 390.39,107.17 391.08,106.89 391.77,106.59 392.46,106.25 393.15,105.87 393.84,105.45 394.53,104.99 395.22,104.47 395.91,103.90 396.60,103.26 397.29,102.56 397.98,101.77 398.67,100.90 399.36,99.93 400.05,98.85 400.74,97.66 401.43,96.33 402.12,94.86 402.81,93.22 403.50,91.40" fill="none" stroke="#1a1ae6" stroke-width="1.3"/>
<rect x="305.90" y="108.65" width="2.00" height="2.00" fill="#1a1ae6" stroke="none" stroke-width="1"/>
<rect x="319.70" y="108.65" width="2.00" height="2.00" fill="#1a1ae6" stroke="none" stroke-width="1"/>
<rect x="333.50" y="108.65" width="2.00" height="2.00" fill="#1a1ae6" stroke="none" stroke-width="1"/>
<rect x="347.30" y="108.65" width="2.00" height="2.00" fill="#1a1ae6" stroke="none" stroke-width="1"/>
<rect x="361.10" y="108.53" width="2.00" height="2.00" fill="#1a1ae6" stroke="none" stroke-width="1"/>
<rect x="374.90" y="108.28" width="2.00" height="2.00" fill="#1a1ae6" stroke="none" stroke-width="1"/>
<rect x="388.70" y="106.65" width="2.00" height="2.00" fill="#1a1ae6" stroke="none" stroke-width="1"/>
<line x1="403.50" y1="89.90" x2="403.50" y2="92.90" stroke="#1a1ae6" stroke-width="0.9"/>
<line x1="402.30" y1="89.90" x2="404.70" y2="89.90" stroke="#1a1ae6" stroke-width="0.9"/>
<line x1="402.30" y1="92.90" x2="404.70" y2="92.90" stroke="#1a1ae6" stroke-width="0.9"/>
<rect x="402.50" y="90.40" width="2.00" height="2.00" fill="#1a1ae6" stroke="none" stroke-width="1"/>
<polyline points="306.90,109.65 307.59,109.62 308.28,109.59 308.97,109.56 309.66,109.53 310.35,109.50 311.04,109.47 311.73,109.44 312.42,109.41 313.11,109.37 313.80,109.34 314.49,109.30 315.18,109.27 315.87,109.23 316.56,109.19 317.25,109.14 317.94,109.10 318.63,109.05 319.32,109.00 320.01,108.95 320.70,108.90 321.39,108.84 322.08,108.79 322.77,108.72 323.46,108.66 324.15,108.59 324.84,108.52 325.53,108.45 326.22,108.37 326.91,108.29 327.60,108.21 328.29,108.12 328.98,108.03 329.67,107.93 330.36,107.83 331.05,107.73 331.74,107.62 332.43,107.51 333.12,107.40 333.81,107.28 334.50,107.15 335.19,107.02 335.88,106.89 336.57,106.74 337.26,106.60 337.95,106.45 338.64,106.29 339.33,106.13 340.02,105.96 340.71,105.79 341.40,105.61 342.09,105.42 342.78,105.22 343.47,105.02 344.16,104.81 344.85,104.60 345.54,104.37 346.23,104.14 346.92,103.90 347.61,103.66 348.30,103.40 348.99,103.14 349.68,102.86 350.37,102.58 351.06,102.29 351.75,101.98 352.44,101.67 353.13,101.35 353.82,101.01 354.51,100.66 355.20,100.30 355.89,99.93 356.58,99.54 357.27,99.14 357.96,98.72 358.65,98.29 359.34,97.85 360.03,97.38 360.72,96.91 361.41,96.41 362.10,95.90 362.79,95.37 363.48,94.83 364.17,94.26 364.86,93.69 365.55,93.10 366.24,92.49 366.93,91.88 367.62,91.25 368.31,90.61 369.00,89.97 369.69,89.31 370.38,88.64 371.07,87.97 371.76,87.30 372.45,86.61 373.14,85.93 373.83,85.24 374.52,84.54 375.21,83.85 375.90,83.15 376.59,82.45 377.28,81.76 377.97,81.05 378.66,80.35 379.35,79.64 380.04,78.92 380.73,78.20 381.42,77.46 382.11,76.71 382.80,75.96 383.49,75.18 384.18,74.40 384.87,73.59 385.56,72.77 386.25,71.93 386.94,71.07 387.63,70.19 388.32,69.29 389.01,68.36 389.70,67.40 390.39,66.42 391.08,65.41 391.77,64.38 392.46,63.32 393.15,62.24 393.84,61.15 394.53,60.03 395.22,58.90 395.91,57.74 396.60,56.58 397.29,55.40 397.98,54.21 398.67,53.01 399.36,51.79 400.05,50.57 400.74,49.35 401.43,48.12 402.12,46.88 402.81,45.64 403.50,44.40" fill="none" stroke="#8fbff0" stroke-width="1.1"/>
<rect x="305.90" y="108.65" width="2.00" height="2.00" fill="#8fbff0" stroke="none" stroke-width="1"/>
<rect x="319.70" y="107.65" width="2.00" height="2.00" fill="#8fbff0" stroke="none" stroke-width="1"/>
<rect x="333.50" y="106.15" width="2.00" height="2.00" fill="#8fbff0" stroke="none" stroke-width="1"/>
<rect x="347.30" y="102.15" width="2.00" height="2.00" fill="#8fbff0" stroke="none" stroke-width="1"/>
<line x1="362.10" y1="92.90" x2="362.10" y2="97.90" stroke="#8fbff0" stroke-width="0.9"/>
<line x1="360.90" y1="92.90" x2="363.30" y2="92.90" stroke="#8fbff0" stroke-width="0.9"/>
<line x1="360.90" y1="97.90" x2="363.30" y2="97.90" stroke="#8fbff0" stroke-width="0.9"/>
<rect x="361.10" y="94.40" width="2.00" height="2.00" fill="#8fbff0" stroke="none" stroke-width="1"/>
<line x1="375.90" y1="81.15" x2="375.90" y2="83.65" stroke="#8fbff0" stroke-width="0.9"/>
<line x1="374.70" y1="81.15" x2="377.10" y2="81.15" stroke="#8fbff0" stroke-width="0.9"/>
<line x1="374.70" y1="83.65" x2="377.10" y2="83.65" stroke="#8fbff0" stroke-width="0.9"/>
<rect x="374.90" y="81.40" width="2.00" height="2.00" fill="#8fbff0" stroke="none" stroke-width="1"/>
<line x1="389.70" y1="66.40" x2="389.70" y2="68.90" stroke="#8fbff0" stroke-width="0.9"/>
<line x1="388.50" y1="66.40" x2="390.90" y2="66.40" stroke="#8fbff0" stroke-width="0.9"/>
<line x1="388.50" y1="68.90" x2="390.90" y2="68.90" stroke="#8fbff0" stroke-width="0.9"/>
<rect x="388.70" y="66.65" width="2.00" height="2.00" fill="#8fbff0" stroke="none" stroke-width="1"/>
<line x1="403.50" y1="42.40" x2="403.50" y2="45.90" stroke="#8fbff0" stroke-width="0.9"/>
<line x1="402.30" y1="42.40" x2="404.70" y2="42.40" stroke="#8fbff0" stroke-width="0.9"/>
<line x1="402.30" y1="45.90" x2="404.70" y2="45.90" stroke="#8fbff0" stroke-width="0.9"/>
<rect x="402.50" y="43.15" width="2.00" height="2.00" fill="#8fbff0" stroke="none" stroke-width="1"/>
<polyline points="306.90,109.15 307.59,109.14 308.28,109.12 308.97,109.11 309.66,109.09 310.35,109.07 311.04,109.05 311.73,109.03 312.42,109.01 313.11,108.99 313.80,108.97 314.49,108.95 315.18,108.93 315.87,108.90 316.56,108.88 317.25,108.86 317.94,108.83 318.63,108.80 319.32,108.77 320.01,108.75 320.70,108.72 321.39,108.68 322.08,108.65 322.77,108.62 323.46,108.58 324.15,108.55 324.84,108.51 325.53,108.47 326.22,108.43 326.91,108.39 327.60,108.35 328.29,108.31 328.98,108.26 329.67,108.21 330.36,108.17 331.05,108.12 331.74,108.06 332.43,108.01 333.12,107.95 333.81,107.90 334.50,107.84 335.19,107.77 335.88,107.71 336.57,107.64 337.26,107.57 337.95,107.50 338.64,107.43 339.33,107.35 340.02,107.27 340.71,107.19 341.40,107.11 342.09,107.02 342.78,106.93 343.47,106.83 344.16,106.73 344.85,106.63 345.54,106.53 346.23,106.42 346.92,106.31 347.61,106.19 348.30,106.07 348.99,105.95 349.68,105.82 350.37,105.69 351.06,105.55 351.75,105.41 352.44,105.26 353.13,105.10 353.82,104.95 354.51,104.78 355.20,104.61 355.89,104.44 356.58,104.25 357.27,104.07 357.96,103.87 358.65,103.67 359.34,103.46 360.03,103.24 360.72,103.02 361.41,102.79 362.10,102.54 362.79,102.30 363.48,102.04 364.17,101.77 364.86,101.49 365.55,101.21 366.24,100.91 366.93,100.61 367.62,100.29 368.31,99.96 369.00,99.62 369.69,99.27 370.38,98.90 371.07,98.52 371.76,98.13 372.45,97.73 373.14,97.31 373.83,96.88 374.52,96.43 375.21,95.96 375.90,95.48 376.59,94.98 377.28,94.47 377.97,93.93 378.66,93.38 379.35,92.80 380.04,92.21 380.73,91.60 381.42,90.96 382.11,90.30 382.80,89.62 383.49,88.92 384.18,88.19 384.87,87.43 385.56,86.65 386.25,85.84 386.94,85.00 387.63,84.13 388.32,83.23 389.01,82.30 389.70,81.33 390.39,80.34 391.08,79.30 391.77,78.23 392.46,77.12 393.15,75.98 393.84,74.79 394.53,73.56 395.22,72.29 395.91,70.97 396.60,69.61 397.29,68.19 397.98,66.73 398.67,65.22 399.36,63.65 400.05,62.03 400.74,60.35 401.43,58.61 402.12,56.81 402.81,54.94 403.50,53.01" fill="none" stroke="#111" stroke-width="1.1"/>
<rect x="305.90" y="108.90" width="2.00" height="2.00" fill="#111" stroke="none" stroke-width="1"/>
<rect x="319.70" y="108.15" width="2.00" height="2.00" fill="#111" stroke="none" stroke-width="1"/>
<rect x="333.50" y="106.65" width="2.00" height="2.00" fill="#111" stroke="none" stroke-width="1"/>
<rect x="347.30" y="104.40" width="2.00" height="2.00" fill="#111" stroke="none" stroke-width="1"/>
<line x1="362.10" y1="100.15" x2="362.10" y2="101.65" stroke="#111" stroke-width="0.9"/>
<line x1="360.90" y1="100.15" x2="363.30" y2="100.15" stroke="#111" stroke-width="0.9"/>
<line x1="360.90" y1="101.65" x2="363.30" y2="101.65" stroke="#111" stroke-width="0.9"/>
<rect x="361.10" y="99.90" width="2.00" height="2.00" fill="#111" stroke="none" stroke-width="1"/>
<line x1="375.90" y1="94.40" x2="375.90" y2="99.40" stroke="#111" stroke-width="0.9"/>
<line x1="374.70" y1="94.40" x2="377.10" y2="94.40" stroke="#111" stroke-width="0.9"/>
<line x1="374.70" y1="99.40" x2="377.10" y2="99.40" stroke="#111" stroke-width="0.9"/>
<rect x="374.90" y="95.90" width="2.00" height="2.00" fill="#111" stroke="none" stroke-width="1"/>
<line x1="389.70" y1="79.15" x2="389.70" y2="83.65" stroke="#111" stroke-width="0.9"/>
<line x1="388.50" y1="79.15" x2="390.90" y2="79.15" stroke="#111" stroke-width="0.9"/>
<line x1="388.50" y1="83.65" x2="390.90" y2="83.65" stroke="#111" stroke-width="0.9"/>
<rect x="388.70" y="80.40" width="2.00" height="2.00" fill="#111" stroke="none" stroke-width="1"/>
<line x1="403.50" y1="50.65" x2="403.50" y2="55.15" stroke="#111" stroke-width="0.9"/>
<line x1="402.30" y1="50.65" x2="404.70" y2="50.65" stroke="#111" stroke-width="0.9"/>
<line x1="402.30" y1="55.15" x2="404.70" y2="55.15" stroke="#111" stroke-width="0.9"/>
<rect x="402.50" y="51.90" width="2.00" height="2.00" fill="#111" stroke="none" stroke-width="1"/>
<line x1="311.20" y1="38.20" x2="319.90" y2="38.20" stroke="#111" stroke-width="1.2"/>
<text x="324.40" y="40.50" font-size="7.3" font-weight="bold" text-anchor="start" fill="#222" stroke="#222" stroke-width="0.22">HCT116</text>
<line x1="311.20" y1="45.55" x2="319.90" y2="45.55" stroke="#8fbff0" stroke-width="1.2"/>
<text x="324.40" y="47.85" font-size="7.3" font-weight="bold" text-anchor="start" fill="#222" stroke="#222" stroke-width="0.22">HCT116-shControl</text>
<line x1="311.20" y1="52.90" x2="319.90" y2="52.90" stroke="#1a1ae6" stroke-width="1.6"/>
<text x="324.40" y="55.20" font-size="7.3" font-weight="bold" text-anchor="start" fill="#222" stroke="#222" stroke-width="0.22">HCT116-shANXA1</text>
<polyline points="404.70,44.40 406.30,44.40 406.30,92.00 404.70,92.00" fill="none" stroke="#333" stroke-width="1.1"/>
<text x="0.00" y="0.00" font-size="6.6" font-weight="bold" text-anchor="middle" fill="#222" transform="translate(407.70,69.90) rotate(90)" letter-spacing="0.6">***</text>
<text x="0.00" y="0.00" font-size="8.2" font-weight="bold" text-anchor="middle" fill="#222" transform="translate(290.50,70.00) rotate(-90)" stroke="#222" stroke-width="0.22">The number of cells (1×10 <tspan dy="-3" font-size="5.5">5</tspan><tspan dy="3">)</tspan></text>
<line x1="442.00" y1="35.10" x2="442.00" y2="110.60" stroke="#111" stroke-width="1.1"/>
<line x1="439.80" y1="110.10" x2="538.96" y2="110.10" stroke="#111" stroke-width="1.1"/>
<line x1="439.80" y1="110.10" x2="442.00" y2="110.10" stroke="#111" stroke-width="0.9"/>
<text x="439.40" y="112.80" font-size="7.6" font-weight="bold" text-anchor="end" fill="#222" stroke="#222" stroke-width="0.22">0</text>
<line x1="439.80" y1="95.20" x2="442.00" y2="95.20" stroke="#111" stroke-width="0.9"/>
<text x="439.40" y="97.90" font-size="7.6" font-weight="bold" text-anchor="end" fill="#222" stroke="#222" stroke-width="0.22">5</text>
<line x1="439.80" y1="80.30" x2="442.00" y2="80.30" stroke="#111" stroke-width="0.9"/>
<text x="439.40" y="83.00" font-size="7.6" font-weight="bold" text-anchor="end" fill="#222" stroke="#222" stroke-width="0.22">10</text>
<line x1="439.80" y1="65.40" x2="442.00" y2="65.40" stroke="#111" stroke-width="0.9"/>
<text x="439.40" y="68.10" font-size="7.6" font-weight="bold" text-anchor="end" fill="#222" stroke="#222" stroke-width="0.22">15</text>
<line x1="439.80" y1="50.50" x2="442.00" y2="50.50" stroke="#111" stroke-width="0.9"/>
<text x="439.40" y="53.20" font-size="7.6" font-weight="bold" text-anchor="end" fill="#222" stroke="#222" stroke-width="0.22">20</text>
<line x1="439.80" y1="35.60" x2="442.00" y2="35.60" stroke="#111" stroke-width="0.9"/>
<text x="439.40" y="38.30" font-size="7.6" font-weight="bold" text-anchor="end" fill="#222" stroke="#222" stroke-width="0.22">25</text>
<line x1="442.00" y1="110.10" x2="442.00" y2="112.30" stroke="#111" stroke-width="0.9"/>
<text x="442.00" y="120.70" font-size="7.6" font-weight="bold" text-anchor="middle" fill="#222" stroke="#222" stroke-width="0.22">0</text>
<line x1="455.78" y1="110.10" x2="455.78" y2="112.30" stroke="#111" stroke-width="0.9"/>
<text x="455.78" y="120.70" font-size="7.6" font-weight="bold" text-anchor="middle" fill="#222" stroke="#222" stroke-width="0.22">1</text>
<line x1="469.56" y1="110.10" x2="469.56" y2="112.30" stroke="#111" stroke-width="0.9"/>
<text x="469.56" y="120.70" font-size="7.6" font-weight="bold" text-anchor="middle" fill="#222" stroke="#222" stroke-width="0.22">2</text>
<line x1="483.34" y1="110.10" x2="483.34" y2="112.30" stroke="#111" stroke-width="0.9"/>
<text x="483.34" y="120.70" font-size="7.6" font-weight="bold" text-anchor="middle" fill="#222" stroke="#222" stroke-width="0.22">3</text>
<line x1="497.12" y1="110.10" x2="497.12" y2="112.30" stroke="#111" stroke-width="0.9"/>
<text x="497.12" y="120.70" font-size="7.6" font-weight="bold" text-anchor="middle" fill="#222" stroke="#222" stroke-width="0.22">4</text>
<line x1="510.90" y1="110.10" x2="510.90" y2="112.30" stroke="#111" stroke-width="0.9"/>
<text x="510.90" y="120.70" font-size="7.6" font-weight="bold" text-anchor="middle" fill="#222" stroke="#222" stroke-width="0.22">5</text>
<line x1="524.68" y1="110.10" x2="524.68" y2="112.30" stroke="#111" stroke-width="0.9"/>
<text x="524.68" y="120.70" font-size="7.6" font-weight="bold" text-anchor="middle" fill="#222" stroke="#222" stroke-width="0.22">6</text>
<line x1="538.46" y1="110.10" x2="538.46" y2="112.30" stroke="#111" stroke-width="0.9"/>
<text x="538.46" y="120.70" font-size="7.6" font-weight="bold" text-anchor="middle" fill="#222" stroke="#222" stroke-width="0.22">7</text>
<text x="489.83" y="131.80" font-size="8.3" font-weight="bold" text-anchor="middle" fill="#222" stroke="#222" stroke-width="0.22">Time (days)</text>
<polyline points="442.00,108.66 442.69,108.66 443.38,108.66 444.07,108.66 444.76,108.66 445.44,108.66 446.13,108.66 446.82,108.66 447.51,108.66 448.20,108.66 448.89,108.66 449.58,108.66 450.27,108.66 450.96,108.66 451.65,108.66 452.33,108.66 453.02,108.66 453.71,108.66 454.40,108.66 455.09,108.66 455.78,108.65 456.47,108.65 457.16,108.65 457.85,108.65 458.54,108.65 459.23,108.65 459.91,108.65 460.60,108.65 461.29,108.64 461.98,108.64 462.67,108.64 463.36,108.64 464.05,108.64 464.74,108.63 465.43,108.63 466.12,108.63 466.80,108.62 467.49,108.62 468.18,108.61 468.87,108.61 469.56,108.61 470.25,108.60 470.94,108.59 471.63,108.59 472.32,108.58 473.00,108.57 473.69,108.57 474.38,108.56 475.07,108.55 475.76,108.54 476.45,108.53 477.14,108.51 477.83,108.50 478.52,108.49 479.21,108.47 479.89,108.45 480.58,108.44 481.27,108.42 481.96,108.40 482.65,108.37 483.34,108.35 484.03,108.32 484.72,108.29 485.41,108.26 486.10,108.22 486.78,108.18 487.47,108.14 488.16,108.10 488.85,108.05 489.54,107.99 490.23,107.94 490.92,107.87 491.61,107.81 492.30,107.73 492.99,107.65 493.68,107.57 494.36,107.47 495.05,107.37 495.74,107.26 496.43,107.15 497.12,107.02 497.81,106.88 498.50,106.73 499.19,106.57 499.88,106.40 500.56,106.21 501.25,106.01 501.94,105.79 502.63,105.55 503.32,105.30 504.01,105.03 504.70,104.74 505.39,104.43 506.08,104.09 506.77,103.73 507.45,103.35 508.14,102.94 508.83,102.51 509.52,102.04 510.21,101.55 510.90,101.03 511.59,100.47 512.28,99.89 512.97,99.27 513.66,98.62 514.35,97.93 515.03,97.22 515.72,96.47 516.41,95.68 517.10,94.87 517.79,94.02 518.48,93.15 519.17,92.25 519.86,91.32 520.55,90.37 521.24,89.39 521.92,88.40 522.61,87.39 523.30,86.38 523.99,85.35 524.68,84.32 525.37,83.28 526.06,82.25 526.75,81.22 527.44,80.20 528.12,79.20 528.81,78.21 529.50,77.24 530.19,76.29 530.88,75.36 531.57,74.46 532.26,73.58 532.95,72.74 533.64,71.93 534.33,71.15 535.01,70.40 535.70,69.68 536.39,69.00 537.08,68.35 537.77,67.74 538.46,67.15" fill="none" stroke="#1a1ae6" stroke-width="1.15"/>
<rect x="441.00" y="107.91" width="2.00" height="2.00" fill="#1a1ae6" stroke="none" stroke-width="1"/>
<rect x="454.78" y="107.91" width="2.00" height="2.00" fill="#1a1ae6" stroke="none" stroke-width="1"/>
<rect x="468.56" y="107.61" width="2.00" height="2.00" fill="#1a1ae6" stroke="none" stroke-width="1"/>
<rect x="482.34" y="107.31" width="2.00" height="2.00" fill="#1a1ae6" stroke="none" stroke-width="1"/>
<line x1="497.12" y1="105.93" x2="497.12" y2="106.52" stroke="#1a1ae6" stroke-width="0.9"/>
<line x1="495.92" y1="105.93" x2="498.32" y2="105.93" stroke="#1a1ae6" stroke-width="0.9"/>
<line x1="495.92" y1="106.52" x2="498.32" y2="106.52" stroke="#1a1ae6" stroke-width="0.9"/>
<rect x="496.12" y="105.23" width="2.00" height="2.00" fill="#1a1ae6" stroke="none" stroke-width="1"/>
<line x1="510.90" y1="100.86" x2="510.90" y2="102.05" stroke="#1a1ae6" stroke-width="0.9"/>
<line x1="509.70" y1="100.86" x2="512.10" y2="100.86" stroke="#1a1ae6" stroke-width="0.9"/>
<line x1="509.70" y1="102.05" x2="512.10" y2="102.05" stroke="#1a1ae6" stroke-width="0.9"/>
<rect x="509.90" y="100.46" width="2.00" height="2.00" fill="#1a1ae6" stroke="none" stroke-width="1"/>
<line x1="524.68" y1="83.28" x2="524.68" y2="85.07" stroke="#1a1ae6" stroke-width="0.9"/>
<line x1="523.48" y1="83.28" x2="525.88" y2="83.28" stroke="#1a1ae6" stroke-width="0.9"/>
<line x1="523.48" y1="85.07" x2="525.88" y2="85.07" stroke="#1a1ae6" stroke-width="0.9"/>
<rect x="523.68" y="83.17" width="2.00" height="2.00" fill="#1a1ae6" stroke="none" stroke-width="1"/>
<line x1="538.46" y1="66.29" x2="538.46" y2="68.08" stroke="#1a1ae6" stroke-width="0.9"/>
<line x1="537.26" y1="66.29" x2="539.66" y2="66.29" stroke="#1a1ae6" stroke-width="0.9"/>
<line x1="537.26" y1="68.08" x2="539.66" y2="68.08" stroke="#1a1ae6" stroke-width="0.9"/>
<rect x="537.46" y="66.19" width="2.00" height="2.00" fill="#1a1ae6" stroke="none" stroke-width="1"/>
<polyline points="442.00,107.51 442.69,107.50 443.38,107.50 444.07,107.50 444.76,107.49 445.44,107.49 446.13,107.48 446.82,107.48 447.51,107.48 448.20,107.47 448.89,107.47 449.58,107.46 450.27,107.45 450.96,107.45 451.65,107.44 452.33,107.43 453.02,107.42 453.71,107.41 454.40,107.40 455.09,107.39 455.78,107.38 456.47,107.37 457.16,107.35 457.85,107.34 458.54,107.32 459.23,107.31 459.91,107.29 460.60,107.27 461.29,107.25 461.98,107.23 462.67,107.20 463.36,107.18 464.05,107.15 464.74,107.12 465.43,107.09 466.12,107.05 466.80,107.01 467.49,106.97 468.18,106.93 468.87,106.88 469.56,106.83 470.25,106.78 470.94,106.72 471.63,106.66 472.32,106.59 473.00,106.52 473.69,106.44 474.38,106.35 475.07,106.26 475.76,106.17 476.45,106.06 477.14,105.95 477.83,105.83 478.52,105.70 479.21,105.57 479.89,105.42 480.58,105.26 481.27,105.09 481.96,104.91 482.65,104.72 483.34,104.51 484.03,104.29 484.72,104.05 485.41,103.80 486.10,103.52 486.78,103.24 487.47,102.93 488.16,102.60 488.85,102.25 489.54,101.88 490.23,101.48 490.92,101.06 491.61,100.61 492.30,100.14 492.99,99.64 493.68,99.11 494.36,98.55 495.05,97.96 495.74,97.34 496.43,96.69 497.12,96.00 497.81,95.29 498.50,94.53 499.19,93.75 499.88,92.93 500.56,92.07 501.25,91.19 501.94,90.27 502.63,89.32 503.32,88.33 504.01,87.32 504.70,86.28 505.39,85.22 506.08,84.13 506.77,83.02 507.45,81.89 508.14,80.75 508.83,79.59 509.52,78.42 510.21,77.25 510.90,76.07 511.59,74.89 512.28,73.71 512.97,72.54 513.66,71.37 514.35,70.22 515.03,69.09 515.72,67.97 516.41,66.87 517.10,65.79 517.79,64.74 518.48,63.72 519.17,62.73 519.86,61.76 520.55,60.83 521.24,59.92 521.92,59.06 522.61,58.22 523.30,57.42 523.99,56.65 524.68,55.92 525.37,55.22 526.06,54.55 526.75,53.91 527.44,53.31 528.12,52.74 528.81,52.19 529.50,51.68 530.19,51.20 530.88,50.74 531.57,50.31 532.26,49.90 532.95,49.52 533.64,49.16 534.33,48.82 535.01,48.50 535.70,48.20 536.39,47.92 537.08,47.66 537.77,47.42 538.46,47.19" fill="none" stroke="#8fbff0" stroke-width="1.1"/>
<rect x="441.00" y="106.72" width="2.00" height="2.00" fill="#8fbff0" stroke="none" stroke-width="1"/>
<rect x="454.78" y="106.42" width="2.00" height="2.00" fill="#8fbff0" stroke="none" stroke-width="1"/>
<rect x="468.56" y="105.23" width="2.00" height="2.00" fill="#8fbff0" stroke="none" stroke-width="1"/>
<rect x="482.34" y="103.44" width="2.00" height="2.00" fill="#8fbff0" stroke="none" stroke-width="1"/>
<line x1="497.12" y1="96.39" x2="497.12" y2="97.58" stroke="#8fbff0" stroke-width="0.9"/>
<line x1="495.92" y1="96.39" x2="498.32" y2="96.39" stroke="#8fbff0" stroke-width="0.9"/>
<line x1="495.92" y1="97.58" x2="498.32" y2="97.58" stroke="#8fbff0" stroke-width="0.9"/>
<rect x="496.12" y="95.99" width="2.00" height="2.00" fill="#8fbff0" stroke="none" stroke-width="1"/>
<line x1="510.90" y1="73.15" x2="510.90" y2="76.72" stroke="#8fbff0" stroke-width="0.9"/>
<line x1="509.70" y1="73.15" x2="512.10" y2="73.15" stroke="#8fbff0" stroke-width="0.9"/>
<line x1="509.70" y1="76.72" x2="512.10" y2="76.72" stroke="#8fbff0" stroke-width="0.9"/>
<rect x="509.90" y="73.94" width="2.00" height="2.00" fill="#8fbff0" stroke="none" stroke-width="1"/>
<line x1="524.68" y1="55.57" x2="524.68" y2="58.55" stroke="#8fbff0" stroke-width="0.9"/>
<line x1="523.48" y1="55.57" x2="525.88" y2="55.57" stroke="#8fbff0" stroke-width="0.9"/>
<line x1="523.48" y1="58.55" x2="525.88" y2="58.55" stroke="#8fbff0" stroke-width="0.9"/>
<rect x="523.68" y="56.06" width="2.00" height="2.00" fill="#8fbff0" stroke="none" stroke-width="1"/>
<line x1="538.46" y1="40.96" x2="538.46" y2="52.29" stroke="#8fbff0" stroke-width="0.9"/>
<line x1="537.26" y1="40.96" x2="539.66" y2="40.96" stroke="#8fbff0" stroke-width="0.9"/>
<line x1="537.26" y1="52.29" x2="539.66" y2="52.29" stroke="#8fbff0" stroke-width="0.9"/>
<rect x="537.46" y="45.63" width="2.00" height="2.00" fill="#8fbff0" stroke="none" stroke-width="1"/>
<polyline points="442.00,107.45 442.69,107.44 443.38,107.44 444.07,107.44 444.76,107.43 445.44,107.43 446.13,107.43 446.82,107.42 447.51,107.42 448.20,107.41 448.89,107.41 449.58,107.40 450.27,107.40 450.96,107.39 451.65,107.38 452.33,107.37 453.02,107.37 453.71,107.36 454.40,107.35 455.09,107.34 455.78,107.33 456.47,107.31 457.16,107.30 457.85,107.29 458.54,107.27 459.23,107.26 459.91,107.24 460.60,107.22 461.29,107.20 461.98,107.18 462.67,107.15 463.36,107.13 464.05,107.10 464.74,107.07 465.43,107.04 466.12,107.01 466.80,106.97 467.49,106.94 468.18,106.89 468.87,106.85 469.56,106.80 470.25,106.75 470.94,106.69 471.63,106.64 472.32,106.57 473.00,106.50 473.69,106.43 474.38,106.35 475.07,106.27 475.76,106.18 476.45,106.08 477.14,105.97 477.83,105.86 478.52,105.74 479.21,105.61 479.89,105.47 480.58,105.33 481.27,105.17 481.96,105.00 482.65,104.82 483.34,104.62 484.03,104.42 484.72,104.20 485.41,103.96 486.10,103.71 486.78,103.44 487.47,103.15 488.16,102.85 488.85,102.52 489.54,102.18 490.23,101.81 490.92,101.42 491.61,101.01 492.30,100.57 492.99,100.11 493.68,99.62 494.36,99.10 495.05,98.55 495.74,97.98 496.43,97.38 497.12,96.74 497.81,96.08 498.50,95.38 499.19,94.65 499.88,93.89 500.56,93.10 501.25,92.28 501.94,91.43 502.63,90.55 503.32,89.64 504.01,88.70 504.70,87.74 505.39,86.75 506.08,85.73 506.77,84.70 507.45,83.65 508.14,82.58 508.83,81.49 509.52,80.40 510.21,79.30 510.90,78.19 511.59,77.08 512.28,75.97 512.97,74.86 513.66,73.76 514.35,72.67 515.03,71.60 515.72,70.53 516.41,69.49 517.10,68.46 517.79,67.46 518.48,66.47 519.17,65.52 519.86,64.59 520.55,63.69 521.24,62.82 521.92,61.98 522.61,61.17 523.30,60.39 523.99,59.64 524.68,58.93 525.37,58.24 526.06,57.59 526.75,56.97 527.44,56.37 528.12,55.81 528.81,55.27 529.50,54.77 530.19,54.29 530.88,53.83 531.57,53.41 532.26,53.00 532.95,52.62 533.64,52.26 534.33,51.92 535.01,51.61 535.70,51.31 536.39,51.03 537.08,50.77 537.77,50.52 538.46,50.29" fill="none" stroke="#111" stroke-width="1.1"/>
<rect x="441.00" y="106.72" width="2.00" height="2.00" fill="#111" stroke="none" stroke-width="1"/>
<rect x="454.78" y="106.42" width="2.00" height="2.00" fill="#111" stroke="none" stroke-width="1"/>
<rect x="468.56" y="105.23" width="2.00" height="2.00" fill="#111" stroke="none" stroke-width="1"/>
<rect x="482.34" y="103.44" width="2.00" height="2.00" fill="#111" stroke="none" stroke-width="1"/>
<line x1="497.12" y1="96.99" x2="497.12" y2="98.18" stroke="#111" stroke-width="0.9"/>
<line x1="495.92" y1="96.99" x2="498.32" y2="96.99" stroke="#111" stroke-width="0.9"/>
<line x1="495.92" y1="98.18" x2="498.32" y2="98.18" stroke="#111" stroke-width="0.9"/>
<rect x="496.12" y="96.58" width="2.00" height="2.00" fill="#111" stroke="none" stroke-width="1"/>
<line x1="510.90" y1="76.43" x2="510.90" y2="78.21" stroke="#111" stroke-width="0.9"/>
<line x1="509.70" y1="76.43" x2="512.10" y2="76.43" stroke="#111" stroke-width="0.9"/>
<line x1="509.70" y1="78.21" x2="512.10" y2="78.21" stroke="#111" stroke-width="0.9"/>
<rect x="509.90" y="76.32" width="2.00" height="2.00" fill="#111" stroke="none" stroke-width="1"/>
<line x1="524.68" y1="58.25" x2="524.68" y2="61.23" stroke="#111" stroke-width="0.9"/>
<line x1="523.48" y1="58.25" x2="525.88" y2="58.25" stroke="#111" stroke-width="0.9"/>
<line x1="523.48" y1="61.23" x2="525.88" y2="61.23" stroke="#111" stroke-width="0.9"/>
<rect x="523.68" y="58.74" width="2.00" height="2.00" fill="#111" stroke="none" stroke-width="1"/>
<line x1="538.46" y1="48.12" x2="538.46" y2="51.69" stroke="#111" stroke-width="0.9"/>
<line x1="537.26" y1="48.12" x2="539.66" y2="48.12" stroke="#111" stroke-width="0.9"/>
<line x1="537.26" y1="51.69" x2="539.66" y2="51.69" stroke="#111" stroke-width="0.9"/>
<rect x="537.46" y="48.90" width="2.00" height="2.00" fill="#111" stroke="none" stroke-width="1"/>
<line x1="445.90" y1="38.20" x2="454.60" y2="38.20" stroke="#111" stroke-width="1.2"/>
<text x="459.10" y="40.50" font-size="7.3" font-weight="bold" text-anchor="start" fill="#222" stroke="#222" stroke-width="0.22">SW620</text>
<line x1="445.90" y1="45.55" x2="454.60" y2="45.55" stroke="#8fbff0" stroke-width="1.2"/>
<text x="459.10" y="47.85" font-size="7.3" font-weight="bold" text-anchor="start" fill="#222" stroke="#222" stroke-width="0.22">SW620-shControl</text>
<line x1="445.90" y1="52.90" x2="454.60" y2="52.90" stroke="#1a1ae6" stroke-width="1.6"/>
<text x="459.10" y="55.20" font-size="7.3" font-weight="bold" text-anchor="start" fill="#222" stroke="#222" stroke-width="0.22">SW620-shANXA1</text>
<polyline points="540.00,44.70 541.60,44.70 541.60,67.30 540.00,67.30" fill="none" stroke="#333" stroke-width="1.1"/>
<text x="0.00" y="0.00" font-size="6.6" font-weight="bold" text-anchor="middle" fill="#222" transform="translate(543.00,57.50) rotate(90)" letter-spacing="0.6">***</text>
<text x="0.00" y="0.00" font-size="8.2" font-weight="bold" text-anchor="middle" fill="#222" transform="translate(427.40,70.00) rotate(-90)" stroke="#222" stroke-width="0.22">The number of cells (1×10 <tspan dy="-3" font-size="5.5">5</tspan><tspan dy="3">)</tspan></text>
<line x1="307.00" y1="154.10" x2="307.00" y2="229.90" stroke="#111" stroke-width="1.1"/>
<line x1="304.80" y1="229.40" x2="402.70" y2="229.40" stroke="#111" stroke-width="1.1"/>
<line x1="304.80" y1="229.40" x2="307.00" y2="229.40" stroke="#111" stroke-width="0.9"/>
<text x="304.40" y="232.10" font-size="7.6" font-weight="bold" text-anchor="end" fill="#222" stroke="#222" stroke-width="0.22">0</text>
<line x1="304.80" y1="210.70" x2="307.00" y2="210.70" stroke="#111" stroke-width="0.9"/>
<text x="304.40" y="213.40" font-size="7.6" font-weight="bold" text-anchor="end" fill="#222" stroke="#222" stroke-width="0.22">10</text>
<line x1="304.80" y1="192.00" x2="307.00" y2="192.00" stroke="#111" stroke-width="0.9"/>
<text x="304.40" y="194.70" font-size="7.6" font-weight="bold" text-anchor="end" fill="#222" stroke="#222" stroke-width="0.22">20</text>
<line x1="304.80" y1="173.30" x2="307.00" y2="173.30" stroke="#111" stroke-width="0.9"/>
<text x="304.40" y="176.00" font-size="7.6" font-weight="bold" text-anchor="end" fill="#222" stroke="#222" stroke-width="0.22">30</text>
<line x1="304.80" y1="154.60" x2="307.00" y2="154.60" stroke="#111" stroke-width="0.9"/>
<text x="304.40" y="157.30" font-size="7.6" font-weight="bold" text-anchor="end" fill="#222" stroke="#222" stroke-width="0.22">40</text>
<line x1="307.00" y1="229.40" x2="307.00" y2="231.60" stroke="#111" stroke-width="0.9"/>
<text x="307.00" y="240.00" font-size="7.6" font-weight="bold" text-anchor="middle" fill="#222" stroke="#222" stroke-width="0.22">0</text>
<line x1="320.60" y1="229.40" x2="320.60" y2="231.60" stroke="#111" stroke-width="0.9"/>
<text x="320.60" y="240.00" font-size="7.6" font-weight="bold" text-anchor="middle" fill="#222" stroke="#222" stroke-width="0.22">1</text>
<line x1="334.20" y1="229.40" x2="334.20" y2="231.60" stroke="#111" stroke-width="0.9"/>
<text x="334.20" y="240.00" font-size="7.6" font-weight="bold" text-anchor="middle" fill="#222" stroke="#222" stroke-width="0.22">2</text>
<line x1="347.80" y1="229.40" x2="347.80" y2="231.60" stroke="#111" stroke-width="0.9"/>
<text x="347.80" y="240.00" font-size="7.6" font-weight="bold" text-anchor="middle" fill="#222" stroke="#222" stroke-width="0.22">3</text>
<line x1="361.40" y1="229.40" x2="361.40" y2="231.60" stroke="#111" stroke-width="0.9"/>
<text x="361.40" y="240.00" font-size="7.6" font-weight="bold" text-anchor="middle" fill="#222" stroke="#222" stroke-width="0.22">4</text>
<line x1="375.00" y1="229.40" x2="375.00" y2="231.60" stroke="#111" stroke-width="0.9"/>
<text x="375.00" y="240.00" font-size="7.6" font-weight="bold" text-anchor="middle" fill="#222" stroke="#222" stroke-width="0.22">5</text>
<line x1="388.60" y1="229.40" x2="388.60" y2="231.60" stroke="#111" stroke-width="0.9"/>
<text x="388.60" y="240.00" font-size="7.6" font-weight="bold" text-anchor="middle" fill="#222" stroke="#222" stroke-width="0.22">6</text>
<line x1="402.20" y1="229.40" x2="402.20" y2="231.60" stroke="#111" stroke-width="0.9"/>
<text x="402.20" y="240.00" font-size="7.6" font-weight="bold" text-anchor="middle" fill="#222" stroke="#222" stroke-width="0.22">7</text>
<text x="354.20" y="250.80" font-size="8.3" font-weight="bold" text-anchor="middle" fill="#222" stroke="#222" stroke-width="0.22">Time (days)</text>
<polyline points="307.00,229.25 307.68,229.25 308.36,229.25 309.04,229.25 309.72,229.25 310.40,229.25 311.08,229.25 311.76,229.25 312.44,229.25 313.12,229.25 313.80,229.25 314.48,229.17 315.16,229.08 315.84,228.98 316.52,228.88 317.20,228.78 317.88,228.67 318.56,228.57 319.24,228.46 319.92,228.35 320.60,228.24 321.28,228.12 321.96,228.00 322.64,227.88 323.32,227.76 324.00,227.63 324.68,227.51 325.36,227.38 326.04,227.24 326.72,227.11 327.40,226.97 328.08,226.83 328.76,226.68 329.44,226.54 330.12,226.39 330.80,226.23 331.48,226.08 332.16,225.92 332.84,225.75 333.52,225.59 334.20,225.42 334.88,225.24 335.56,225.07 336.24,224.89 336.92,224.70 337.60,224.51 338.28,224.32 338.96,224.13 339.64,223.93 340.32,223.72 341.00,223.51 341.68,223.30 342.36,223.08 343.04,222.86 343.72,222.64 344.40,222.41 345.08,222.17 345.76,221.93 346.44,221.69 347.12,221.43 347.80,221.18 348.48,220.92 349.16,220.65 349.84,220.38 350.52,220.10 351.20,219.82 351.88,219.53 352.56,219.24 353.24,218.94 353.92,218.63 354.60,218.32 355.28,218.00 355.96,217.67 356.64,217.34 357.32,217.00 358.00,216.65 358.68,216.30 359.36,215.94 360.04,215.57 360.72,215.19 361.40,214.81 362.08,214.42 362.76,214.02 363.44,213.61 364.12,213.20 364.80,212.77 365.48,212.34 366.16,211.89 366.84,211.44 367.52,210.98 368.20,210.51 368.88,210.03 369.56,209.54 370.24,209.04 370.92,208.53 371.60,208.01 372.28,207.48 372.96,206.93 373.64,206.38 374.32,205.82 375.00,205.24 375.68,204.65 376.36,204.05 377.04,203.44 377.72,202.81 378.40,202.17 379.08,201.52 379.76,200.85 380.44,200.18 381.12,199.48 381.80,198.78 382.48,198.05 383.16,197.32 383.84,196.57 384.52,195.80 385.20,195.01 385.88,194.22 386.56,193.40 387.24,192.57 387.92,191.72 388.60,190.85 389.28,189.97 389.96,189.06 390.64,188.14 391.32,187.20 392.00,186.24 392.68,185.26 393.36,184.26 394.04,183.24 394.72,182.20 395.40,181.14 396.08,180.05 396.76,178.94 397.44,177.81 398.12,176.66 398.80,175.48 399.48,174.28 400.16,173.06 400.84,171.81 401.52,170.53 402.20,169.23" fill="none" stroke="#ee1c1c" stroke-width="1.1"/>
<rect x="306.00" y="228.03" width="2.00" height="2.00" fill="#ee1c1c" stroke="none" stroke-width="1"/>
<rect x="319.60" y="227.47" width="2.00" height="2.00" fill="#ee1c1c" stroke="none" stroke-width="1"/>
<rect x="333.20" y="225.41" width="2.00" height="2.00" fill="#ee1c1c" stroke="none" stroke-width="1"/>
<rect x="346.80" y="220.73" width="2.00" height="2.00" fill="#ee1c1c" stroke="none" stroke-width="1"/>
<line x1="361.40" y1="212.76" x2="361.40" y2="213.88" stroke="#ee1c1c" stroke-width="0.9"/>
<line x1="360.20" y1="212.76" x2="362.60" y2="212.76" stroke="#ee1c1c" stroke-width="0.9"/>
<line x1="360.20" y1="213.88" x2="362.60" y2="213.88" stroke="#ee1c1c" stroke-width="0.9"/>
<rect x="360.40" y="212.32" width="2.00" height="2.00" fill="#ee1c1c" stroke="none" stroke-width="1"/>
<line x1="375.00" y1="204.72" x2="375.00" y2="208.08" stroke="#ee1c1c" stroke-width="0.9"/>
<line x1="373.80" y1="204.72" x2="376.20" y2="204.72" stroke="#ee1c1c" stroke-width="0.9"/>
<line x1="373.80" y1="208.08" x2="376.20" y2="208.08" stroke="#ee1c1c" stroke-width="0.9"/>
<rect x="374.00" y="205.40" width="2.00" height="2.00" fill="#ee1c1c" stroke="none" stroke-width="1"/>
<line x1="388.60" y1="188.45" x2="388.60" y2="190.32" stroke="#ee1c1c" stroke-width="0.9"/>
<line x1="387.40" y1="188.45" x2="389.80" y2="188.45" stroke="#ee1c1c" stroke-width="0.9"/>
<line x1="387.40" y1="190.32" x2="389.80" y2="190.32" stroke="#ee1c1c" stroke-width="0.9"/>
<rect x="387.60" y="188.38" width="2.00" height="2.00" fill="#ee1c1c" stroke="none" stroke-width="1"/>
<line x1="402.20" y1="166.01" x2="402.20" y2="173.49" stroke="#ee1c1c" stroke-width="0.9"/>
<line x1="401.00" y1="166.01" x2="403.40" y2="166.01" stroke="#ee1c1c" stroke-width="0.9"/>
<line x1="401.00" y1="173.49" x2="403.40" y2="173.49" stroke="#ee1c1c" stroke-width="0.9"/>
<rect x="401.20" y="168.75" width="2.00" height="2.00" fill="#ee1c1c" stroke="none" stroke-width="1"/>
<polyline points="307.00,228.94 307.68,228.93 308.36,228.92 309.04,228.91 309.72,228.90 310.40,228.89 311.08,228.87 311.76,228.86 312.44,228.85 313.12,228.83 313.80,228.82 314.48,228.80 315.16,228.79 315.84,228.77 316.52,228.76 317.20,228.74 317.88,228.72 318.56,228.70 319.24,228.68 319.92,228.66 320.60,228.64 321.28,228.62 321.96,228.60 322.64,228.58 323.32,228.56 324.00,228.53 324.68,228.51 325.36,228.48 326.04,228.45 326.72,228.43 327.40,228.40 328.08,228.37 328.76,228.34 329.44,228.31 330.12,228.27 330.80,228.24 331.48,228.21 332.16,228.17 332.84,228.13 333.52,228.09 334.20,228.05 334.88,228.01 335.56,227.97 336.24,227.93 336.92,227.88 337.60,227.83 338.28,227.78 338.96,227.73 339.64,227.68 340.32,227.63 341.00,227.57 341.68,227.51 342.36,227.45 343.04,227.39 343.72,227.32 344.40,227.26 345.08,227.19 345.76,227.12 346.44,227.04 347.12,226.97 347.80,226.89 348.48,226.81 349.16,226.72 349.84,226.63 350.52,226.54 351.20,226.45 351.88,226.35 352.56,226.25 353.24,226.15 353.92,226.04 354.60,225.93 355.28,225.82 355.96,225.70 356.64,225.57 357.32,225.45 358.00,225.32 358.68,225.18 359.36,225.04 360.04,224.89 360.72,224.74 361.40,224.59 362.08,224.42 362.76,224.26 363.44,224.08 364.12,223.91 364.80,223.72 365.48,223.53 366.16,223.33 366.84,223.13 367.52,222.91 368.20,222.69 368.88,222.47 369.56,222.23 370.24,221.99 370.92,221.74 371.60,221.48 372.28,221.21 372.96,220.93 373.64,220.64 374.32,220.35 375.00,220.04 375.68,219.72 376.36,219.39 377.04,219.05 377.72,218.69 378.40,218.33 379.08,217.95 379.76,217.56 380.44,217.16 381.12,216.74 381.80,216.30 382.48,215.86 383.16,215.39 383.84,214.91 384.52,214.42 385.20,213.90 385.88,213.37 386.56,212.82 387.24,212.25 387.92,211.66 388.60,211.06 389.28,210.43 389.96,209.77 390.64,209.10 391.32,208.40 392.00,207.68 392.68,206.94 393.36,206.16 394.04,205.36 394.72,204.54 395.40,203.68 396.08,202.80 396.76,201.88 397.44,200.93 398.12,199.95 398.80,198.94 399.48,197.89 400.16,196.80 400.84,195.68 401.52,194.52 402.20,193.32" fill="none" stroke="#f7941d" stroke-width="1.1"/>
<rect x="306.00" y="228.03" width="2.00" height="2.00" fill="#f7941d" stroke="none" stroke-width="1"/>
<rect x="319.60" y="227.65" width="2.00" height="2.00" fill="#f7941d" stroke="none" stroke-width="1"/>
<rect x="333.20" y="226.90" width="2.00" height="2.00" fill="#f7941d" stroke="none" stroke-width="1"/>
<rect x="346.80" y="225.97" width="2.00" height="2.00" fill="#f7941d" stroke="none" stroke-width="1"/>
<line x1="361.40" y1="223.98" x2="361.40" y2="225.10" stroke="#f7941d" stroke-width="0.9"/>
<line x1="360.20" y1="223.98" x2="362.60" y2="223.98" stroke="#f7941d" stroke-width="0.9"/>
<line x1="360.20" y1="225.10" x2="362.60" y2="225.10" stroke="#f7941d" stroke-width="0.9"/>
<rect x="360.40" y="223.54" width="2.00" height="2.00" fill="#f7941d" stroke="none" stroke-width="1"/>
<line x1="375.00" y1="217.06" x2="375.00" y2="219.30" stroke="#f7941d" stroke-width="0.9"/>
<line x1="373.80" y1="217.06" x2="376.20" y2="217.06" stroke="#f7941d" stroke-width="0.9"/>
<line x1="373.80" y1="219.30" x2="376.20" y2="219.30" stroke="#f7941d" stroke-width="0.9"/>
<rect x="374.00" y="217.18" width="2.00" height="2.00" fill="#f7941d" stroke="none" stroke-width="1"/>
<line x1="388.60" y1="209.95" x2="388.60" y2="212.20" stroke="#f7941d" stroke-width="0.9"/>
<line x1="387.40" y1="209.95" x2="389.80" y2="209.95" stroke="#f7941d" stroke-width="0.9"/>
<line x1="387.40" y1="212.20" x2="389.80" y2="212.20" stroke="#f7941d" stroke-width="0.9"/>
<rect x="387.60" y="210.07" width="2.00" height="2.00" fill="#f7941d" stroke="none" stroke-width="1"/>
<line x1="402.20" y1="191.63" x2="402.20" y2="194.99" stroke="#f7941d" stroke-width="0.9"/>
<line x1="401.00" y1="191.63" x2="403.40" y2="191.63" stroke="#f7941d" stroke-width="0.9"/>
<line x1="401.00" y1="194.99" x2="403.40" y2="194.99" stroke="#f7941d" stroke-width="0.9"/>
<rect x="401.20" y="192.31" width="2.00" height="2.00" fill="#f7941d" stroke="none" stroke-width="1"/>
<polyline points="307.00,228.76 307.68,228.75 308.36,228.75 309.04,228.74 309.72,228.73 310.40,228.72 311.08,228.71 311.76,228.70 312.44,228.69 313.12,228.68 313.80,228.67 314.48,228.66 315.16,228.65 315.84,228.63 316.52,228.62 317.20,228.61 317.88,228.59 318.56,228.58 319.24,228.57 319.92,228.55 320.60,228.53 321.28,228.52 321.96,228.50 322.64,228.48 323.32,228.46 324.00,228.44 324.68,228.42 325.36,228.40 326.04,228.38 326.72,228.36 327.40,228.34 328.08,228.31 328.76,228.29 329.44,228.26 330.12,228.23 330.80,228.20 331.48,228.17 332.16,228.14 332.84,228.11 333.52,228.08 334.20,228.04 334.88,228.01 335.56,227.97 336.24,227.93 336.92,227.89 337.60,227.85 338.28,227.81 338.96,227.76 339.64,227.72 340.32,227.67 341.00,227.62 341.68,227.57 342.36,227.51 343.04,227.46 343.72,227.40 344.40,227.34 345.08,227.27 345.76,227.21 346.44,227.14 347.12,227.07 347.80,226.99 348.48,226.92 349.16,226.84 349.84,226.76 350.52,226.67 351.20,226.58 351.88,226.49 352.56,226.39 353.24,226.29 353.92,226.19 354.60,226.08 355.28,225.97 355.96,225.85 356.64,225.73 357.32,225.60 358.00,225.47 358.68,225.34 359.36,225.20 360.04,225.05 360.72,224.90 361.40,224.74 362.08,224.58 362.76,224.40 363.44,224.23 364.12,224.04 364.80,223.85 365.48,223.65 366.16,223.45 366.84,223.23 367.52,223.01 368.20,222.78 368.88,222.54 369.56,222.28 370.24,222.02 370.92,221.75 371.60,221.47 372.28,221.18 372.96,220.88 373.64,220.56 374.32,220.24 375.00,219.90 375.68,219.55 376.36,219.18 377.04,218.80 377.72,218.40 378.40,217.99 379.08,217.56 379.76,217.12 380.44,216.66 381.12,216.18 381.80,215.68 382.48,215.16 383.16,214.63 383.84,214.07 384.52,213.49 385.20,212.88 385.88,212.26 386.56,211.61 387.24,210.93 387.92,210.23 388.60,209.50 389.28,208.74 389.96,207.95 390.64,207.14 391.32,206.29 392.00,205.40 392.68,204.48 393.36,203.53 394.04,202.54 394.72,201.51 395.40,200.44 396.08,199.33 396.76,198.18 397.44,196.98 398.12,195.73 398.80,194.44 399.48,193.09 400.16,191.70 400.84,190.24 401.52,188.74 402.20,187.17" fill="none" stroke="#111" stroke-width="1.1"/>
<rect x="306.00" y="228.03" width="2.00" height="2.00" fill="#111" stroke="none" stroke-width="1"/>
<rect x="319.60" y="227.65" width="2.00" height="2.00" fill="#111" stroke="none" stroke-width="1"/>
<rect x="333.20" y="226.90" width="2.00" height="2.00" fill="#111" stroke="none" stroke-width="1"/>
<rect x="346.80" y="225.97" width="2.00" height="2.00" fill="#111" stroke="none" stroke-width="1"/>
<line x1="361.40" y1="223.60" x2="361.40" y2="224.73" stroke="#111" stroke-width="0.9"/>
<line x1="360.20" y1="223.60" x2="362.60" y2="223.60" stroke="#111" stroke-width="0.9"/>
<line x1="360.20" y1="224.73" x2="362.60" y2="224.73" stroke="#111" stroke-width="0.9"/>
<rect x="360.40" y="223.16" width="2.00" height="2.00" fill="#111" stroke="none" stroke-width="1"/>
<line x1="375.00" y1="218.37" x2="375.00" y2="222.11" stroke="#111" stroke-width="0.9"/>
<line x1="373.80" y1="218.37" x2="376.20" y2="218.37" stroke="#111" stroke-width="0.9"/>
<line x1="373.80" y1="222.11" x2="376.20" y2="222.11" stroke="#111" stroke-width="0.9"/>
<rect x="374.00" y="219.24" width="2.00" height="2.00" fill="#111" stroke="none" stroke-width="1"/>
<line x1="388.60" y1="207.71" x2="388.60" y2="211.45" stroke="#111" stroke-width="0.9"/>
<line x1="387.40" y1="207.71" x2="389.80" y2="207.71" stroke="#111" stroke-width="0.9"/>
<line x1="387.40" y1="211.45" x2="389.80" y2="211.45" stroke="#111" stroke-width="0.9"/>
<rect x="387.60" y="208.58" width="2.00" height="2.00" fill="#111" stroke="none" stroke-width="1"/>
<line x1="402.20" y1="185.46" x2="402.20" y2="188.82" stroke="#111" stroke-width="0.9"/>
<line x1="401.00" y1="185.46" x2="403.40" y2="185.46" stroke="#111" stroke-width="0.9"/>
<line x1="401.00" y1="188.82" x2="403.40" y2="188.82" stroke="#111" stroke-width="0.9"/>
<rect x="401.20" y="186.14" width="2.00" height="2.00" fill="#111" stroke="none" stroke-width="1"/>
<line x1="311.20" y1="158.50" x2="319.90" y2="158.50" stroke="#111" stroke-width="1.2"/>
<text x="324.40" y="160.80" font-size="7.3" font-weight="bold" text-anchor="start" fill="#222" stroke="#222" stroke-width="0.22">HCT116</text>
<line x1="311.20" y1="166.60" x2="319.90" y2="166.60" stroke="#f7941d" stroke-width="1.2"/>
<text x="324.40" y="168.90" font-size="7.3" font-weight="bold" text-anchor="start" fill="#222" stroke="#222" stroke-width="0.22">HCT116-pCDH</text>
<line x1="311.20" y1="174.70" x2="319.90" y2="174.70" stroke="#ee1c1c" stroke-width="1.6"/>
<text x="324.40" y="177.00" font-size="7.3" font-weight="bold" text-anchor="start" fill="#222" stroke="#222" stroke-width="0.22">HCT116-ANXA1</text>
<polyline points="403.60,167.40 405.20,167.40 405.20,192.50 403.60,192.50" fill="none" stroke="#333" stroke-width="1.1"/>
<text x="0.00" y="0.00" font-size="6.6" font-weight="bold" text-anchor="middle" fill="#222" transform="translate(406.60,180.75) rotate(90)" letter-spacing="0.6">***</text>
<text x="0.00" y="0.00" font-size="9.2" font-weight="bold" text-anchor="middle" fill="#222" transform="translate(290.50,190.20) rotate(-90)" stroke="#222" stroke-width="0.22">The number of cells (1×10<tspan dy="-3" font-size="5.5">5</tspan><tspan dy="3">)</tspan></text>
<line x1="442.10" y1="154.50" x2="442.10" y2="229.90" stroke="#111" stroke-width="1.1"/>
<line x1="439.90" y1="229.40" x2="538.71" y2="229.40" stroke="#111" stroke-width="1.1"/>
<line x1="439.90" y1="229.40" x2="442.10" y2="229.40" stroke="#111" stroke-width="0.9"/>
<text x="439.50" y="232.10" font-size="7.6" font-weight="bold" text-anchor="end" fill="#222" stroke="#222" stroke-width="0.22">0</text>
<line x1="439.90" y1="210.80" x2="442.10" y2="210.80" stroke="#111" stroke-width="0.9"/>
<text x="439.50" y="213.50" font-size="7.6" font-weight="bold" text-anchor="end" fill="#222" stroke="#222" stroke-width="0.22">10</text>
<line x1="439.90" y1="192.20" x2="442.10" y2="192.20" stroke="#111" stroke-width="0.9"/>
<text x="439.50" y="194.90" font-size="7.6" font-weight="bold" text-anchor="end" fill="#222" stroke="#222" stroke-width="0.22">20</text>
<line x1="439.90" y1="173.60" x2="442.10" y2="173.60" stroke="#111" stroke-width="0.9"/>
<text x="439.50" y="176.30" font-size="7.6" font-weight="bold" text-anchor="end" fill="#222" stroke="#222" stroke-width="0.22">30</text>
<line x1="439.90" y1="155.00" x2="442.10" y2="155.00" stroke="#111" stroke-width="0.9"/>
<text x="439.50" y="157.70" font-size="7.6" font-weight="bold" text-anchor="end" fill="#222" stroke="#222" stroke-width="0.22">40</text>
<line x1="442.10" y1="229.40" x2="442.10" y2="231.60" stroke="#111" stroke-width="0.9"/>
<text x="442.10" y="240.00" font-size="7.6" font-weight="bold" text-anchor="middle" fill="#222" stroke="#222" stroke-width="0.22">0</text>
<line x1="455.83" y1="229.40" x2="455.83" y2="231.60" stroke="#111" stroke-width="0.9"/>
<text x="455.83" y="240.00" font-size="7.6" font-weight="bold" text-anchor="middle" fill="#222" stroke="#222" stroke-width="0.22">1</text>
<line x1="469.56" y1="229.40" x2="469.56" y2="231.60" stroke="#111" stroke-width="0.9"/>
<text x="469.56" y="240.00" font-size="7.6" font-weight="bold" text-anchor="middle" fill="#222" stroke="#222" stroke-width="0.22">2</text>
<line x1="483.29" y1="229.40" x2="483.29" y2="231.60" stroke="#111" stroke-width="0.9"/>
<text x="483.29" y="240.00" font-size="7.6" font-weight="bold" text-anchor="middle" fill="#222" stroke="#222" stroke-width="0.22">3</text>
<line x1="497.02" y1="229.40" x2="497.02" y2="231.60" stroke="#111" stroke-width="0.9"/>
<text x="497.02" y="240.00" font-size="7.6" font-weight="bold" text-anchor="middle" fill="#222" stroke="#222" stroke-width="0.22">4</text>
<line x1="510.75" y1="229.40" x2="510.75" y2="231.60" stroke="#111" stroke-width="0.9"/>
<text x="510.75" y="240.00" font-size="7.6" font-weight="bold" text-anchor="middle" fill="#222" stroke="#222" stroke-width="0.22">5</text>
<line x1="524.48" y1="229.40" x2="524.48" y2="231.60" stroke="#111" stroke-width="0.9"/>
<text x="524.48" y="240.00" font-size="7.6" font-weight="bold" text-anchor="middle" fill="#222" stroke="#222" stroke-width="0.22">6</text>
<line x1="538.21" y1="229.40" x2="538.21" y2="231.60" stroke="#111" stroke-width="0.9"/>
<text x="538.21" y="240.00" font-size="7.6" font-weight="bold" text-anchor="middle" fill="#222" stroke="#222" stroke-width="0.22">7</text>
<text x="489.76" y="250.80" font-size="8.3" font-weight="bold" text-anchor="middle" fill="#222" stroke="#222" stroke-width="0.22">Time (days)</text>
<polyline points="442.10,227.89 442.79,227.87 443.47,227.86 444.16,227.84 444.85,227.82 445.53,227.81 446.22,227.79 446.91,227.77 447.59,227.74 448.28,227.72 448.97,227.70 449.65,227.67 450.34,227.65 451.02,227.62 451.71,227.59 452.40,227.56 453.08,227.52 453.77,227.49 454.46,227.45 455.14,227.42 455.83,227.37 456.52,227.33 457.20,227.29 457.89,227.24 458.58,227.19 459.26,227.14 459.95,227.08 460.64,227.02 461.32,226.96 462.01,226.90 462.70,226.83 463.38,226.76 464.07,226.68 464.75,226.60 465.44,226.52 466.13,226.43 466.81,226.33 467.50,226.24 468.19,226.13 468.87,226.03 469.56,225.91 470.25,225.79 470.93,225.67 471.62,225.53 472.31,225.39 472.99,225.25 473.68,225.09 474.37,224.93 475.05,224.76 475.74,224.59 476.43,224.40 477.11,224.20 477.80,224.00 478.48,223.78 479.17,223.56 479.86,223.32 480.54,223.07 481.23,222.81 481.92,222.54 482.60,222.26 483.29,221.96 483.98,221.65 484.66,221.33 485.35,220.99 486.04,220.64 486.72,220.27 487.41,219.88 488.10,219.48 488.78,219.07 489.47,218.63 490.16,218.18 490.84,217.71 491.53,217.23 492.21,216.72 492.90,216.20 493.59,215.66 494.27,215.09 494.96,214.51 495.65,213.91 496.33,213.29 497.02,212.65 497.71,212.00 498.39,211.32 499.08,210.62 499.77,209.90 500.45,209.17 501.14,208.42 501.83,207.64 502.51,206.86 503.20,206.05 503.89,205.23 504.57,204.39 505.26,203.54 505.94,202.67 506.63,201.79 507.32,200.90 508.00,200.00 508.69,199.09 509.38,198.17 510.06,197.24 510.75,196.31 511.44,195.37 512.12,194.43 512.81,193.49 513.50,192.55 514.18,191.60 514.87,190.66 515.56,189.72 516.24,188.79 516.93,187.86 517.62,186.94 518.30,186.03 518.99,185.13 519.67,184.24 520.36,183.36 521.05,182.49 521.73,181.64 522.42,180.80 523.11,179.98 523.79,179.17 524.48,178.38 525.17,177.61 525.85,176.86 526.54,176.12 527.23,175.40 527.91,174.70 528.60,174.03 529.29,173.37 529.97,172.73 530.66,172.11 531.35,171.50 532.03,170.92 532.72,170.36 533.40,169.82 534.09,169.29 534.78,168.79 535.46,168.30 536.15,167.83 536.84,167.38 537.52,166.94 538.21,166.53" fill="none" stroke="#ee1c1c" stroke-width="1.1"/>
<rect x="441.10" y="227.47" width="2.00" height="2.00" fill="#ee1c1c" stroke="none" stroke-width="1"/>
<rect x="454.83" y="226.17" width="2.00" height="2.00" fill="#ee1c1c" stroke="none" stroke-width="1"/>
<rect x="468.56" y="224.68" width="2.00" height="2.00" fill="#ee1c1c" stroke="none" stroke-width="1"/>
<line x1="483.29" y1="220.29" x2="483.29" y2="221.77" stroke="#ee1c1c" stroke-width="0.9"/>
<line x1="482.09" y1="220.29" x2="484.49" y2="220.29" stroke="#ee1c1c" stroke-width="0.9"/>
<line x1="482.09" y1="221.77" x2="484.49" y2="221.77" stroke="#ee1c1c" stroke-width="0.9"/>
<rect x="482.29" y="220.03" width="2.00" height="2.00" fill="#ee1c1c" stroke="none" stroke-width="1"/>
<line x1="497.02" y1="213.40" x2="497.02" y2="214.89" stroke="#ee1c1c" stroke-width="0.9"/>
<line x1="495.82" y1="213.40" x2="498.22" y2="213.40" stroke="#ee1c1c" stroke-width="0.9"/>
<line x1="495.82" y1="214.89" x2="498.22" y2="214.89" stroke="#ee1c1c" stroke-width="0.9"/>
<rect x="496.02" y="213.15" width="2.00" height="2.00" fill="#ee1c1c" stroke="none" stroke-width="1"/>
<line x1="510.75" y1="192.39" x2="510.75" y2="197.97" stroke="#ee1c1c" stroke-width="0.9"/>
<line x1="509.55" y1="192.39" x2="511.95" y2="192.39" stroke="#ee1c1c" stroke-width="0.9"/>
<line x1="509.55" y1="197.97" x2="511.95" y2="197.97" stroke="#ee1c1c" stroke-width="0.9"/>
<rect x="509.75" y="194.18" width="2.00" height="2.00" fill="#ee1c1c" stroke="none" stroke-width="1"/>
<line x1="524.48" y1="175.27" x2="524.48" y2="182.71" stroke="#ee1c1c" stroke-width="0.9"/>
<line x1="523.28" y1="175.27" x2="525.68" y2="175.27" stroke="#ee1c1c" stroke-width="0.9"/>
<line x1="523.28" y1="182.71" x2="525.68" y2="182.71" stroke="#ee1c1c" stroke-width="0.9"/>
<rect x="523.48" y="177.99" width="2.00" height="2.00" fill="#ee1c1c" stroke="none" stroke-width="1"/>
<line x1="538.21" y1="164.11" x2="538.21" y2="168.58" stroke="#ee1c1c" stroke-width="0.9"/>
<line x1="537.01" y1="164.11" x2="539.41" y2="164.11" stroke="#ee1c1c" stroke-width="0.9"/>
<line x1="537.01" y1="168.58" x2="539.41" y2="168.58" stroke="#ee1c1c" stroke-width="0.9"/>
<rect x="537.21" y="165.35" width="2.00" height="2.00" fill="#ee1c1c" stroke="none" stroke-width="1"/>
<polyline points="442.10,228.13 442.79,228.13 443.47,228.13 444.16,228.13 444.85,228.13 445.53,228.13 446.22,228.13 446.91,228.13 447.59,228.13 448.28,228.13 448.97,228.13 449.65,228.13 450.34,228.13 451.02,228.13 451.71,228.12 452.40,228.12 453.08,228.12 453.77,228.12 454.46,228.12 455.14,228.12 455.83,228.11 456.52,228.11 457.20,228.11 457.89,228.11 458.58,228.10 459.26,228.10 459.95,228.10 460.64,228.09 461.32,228.09 462.01,228.09 462.70,228.08 463.38,228.08 464.07,228.07 464.75,228.06 465.44,228.06 466.13,228.05 466.81,228.04 467.50,228.03 468.19,228.02 468.87,228.01 469.56,228.00 470.25,227.99 470.93,227.98 471.62,227.96 472.31,227.95 472.99,227.93 473.68,227.91 474.37,227.89 475.05,227.86 475.74,227.84 476.43,227.81 477.11,227.78 477.80,227.75 478.48,227.72 479.17,227.68 479.86,227.64 480.54,227.59 481.23,227.54 481.92,227.49 482.60,227.43 483.29,227.37 483.98,227.30 484.66,227.22 485.35,227.14 486.04,227.05 486.72,226.95 487.41,226.85 488.10,226.73 488.78,226.61 489.47,226.48 490.16,226.33 490.84,226.17 491.53,226.00 492.21,225.82 492.90,225.62 493.59,225.40 494.27,225.17 494.96,224.92 495.65,224.65 496.33,224.36 497.02,224.05 497.71,223.72 498.39,223.36 499.08,222.97 499.77,222.56 500.45,222.13 501.14,221.66 501.83,221.17 502.51,220.65 503.20,220.09 503.89,219.51 504.57,218.90 505.26,218.25 505.94,217.58 506.63,216.87 507.32,216.14 508.00,215.38 508.69,214.59 509.38,213.78 510.06,212.95 510.75,212.09 511.44,211.22 512.12,210.34 512.81,209.44 513.50,208.54 514.18,207.63 514.87,206.72 515.56,205.81 516.24,204.91 516.93,204.02 517.62,203.14 518.30,202.27 518.99,201.43 519.67,200.60 520.36,199.80 521.05,199.02 521.73,198.27 522.42,197.55 523.11,196.86 523.79,196.19 524.48,195.56 525.17,194.96 525.85,194.39 526.54,193.85 527.23,193.34 527.91,192.85 528.60,192.40 529.29,191.97 529.97,191.58 530.66,191.20 531.35,190.85 532.03,190.53 532.72,190.23 533.40,189.94 534.09,189.68 534.78,189.44 535.46,189.21 536.15,189.00 536.84,188.81 537.52,188.63 538.21,188.47" fill="none" stroke="#f7941d" stroke-width="1.1"/>
<rect x="441.10" y="227.66" width="2.00" height="2.00" fill="#f7941d" stroke="none" stroke-width="1"/>
<rect x="454.83" y="227.47" width="2.00" height="2.00" fill="#f7941d" stroke="none" stroke-width="1"/>
<rect x="468.56" y="226.91" width="2.00" height="2.00" fill="#f7941d" stroke="none" stroke-width="1"/>
<rect x="482.29" y="225.61" width="2.00" height="2.00" fill="#f7941d" stroke="none" stroke-width="1"/>
<line x1="497.02" y1="223.26" x2="497.02" y2="224.38" stroke="#f7941d" stroke-width="0.9"/>
<line x1="495.82" y1="223.26" x2="498.22" y2="223.26" stroke="#f7941d" stroke-width="0.9"/>
<line x1="495.82" y1="224.38" x2="498.22" y2="224.38" stroke="#f7941d" stroke-width="0.9"/>
<rect x="496.02" y="222.82" width="2.00" height="2.00" fill="#f7941d" stroke="none" stroke-width="1"/>
<line x1="510.75" y1="210.99" x2="510.75" y2="213.96" stroke="#f7941d" stroke-width="0.9"/>
<line x1="509.55" y1="210.99" x2="511.95" y2="210.99" stroke="#f7941d" stroke-width="0.9"/>
<line x1="509.55" y1="213.96" x2="511.95" y2="213.96" stroke="#f7941d" stroke-width="0.9"/>
<rect x="509.75" y="211.47" width="2.00" height="2.00" fill="#f7941d" stroke="none" stroke-width="1"/>
<line x1="524.48" y1="191.46" x2="524.48" y2="198.90" stroke="#f7941d" stroke-width="0.9"/>
<line x1="523.28" y1="191.46" x2="525.68" y2="191.46" stroke="#f7941d" stroke-width="0.9"/>
<line x1="523.28" y1="198.90" x2="525.68" y2="198.90" stroke="#f7941d" stroke-width="0.9"/>
<rect x="523.48" y="194.18" width="2.00" height="2.00" fill="#f7941d" stroke="none" stroke-width="1"/>
<line x1="538.21" y1="186.43" x2="538.21" y2="190.90" stroke="#f7941d" stroke-width="0.9"/>
<line x1="537.01" y1="186.43" x2="539.41" y2="186.43" stroke="#f7941d" stroke-width="0.9"/>
<line x1="537.01" y1="190.90" x2="539.41" y2="190.90" stroke="#f7941d" stroke-width="0.9"/>
<rect x="537.21" y="187.67" width="2.00" height="2.00" fill="#f7941d" stroke="none" stroke-width="1"/>
<polyline points="442.10,228.05 442.79,228.04 443.47,228.04 444.16,228.04 444.85,228.04 445.53,228.04 446.22,228.03 446.91,228.03 447.59,228.03 448.28,228.03 448.97,228.02 449.65,228.02 450.34,228.02 451.02,228.01 451.71,228.01 452.40,228.00 453.08,228.00 453.77,227.99 454.46,227.99 455.14,227.98 455.83,227.98 456.52,227.97 457.20,227.96 457.89,227.95 458.58,227.95 459.26,227.94 459.95,227.93 460.64,227.92 461.32,227.90 462.01,227.89 462.70,227.88 463.38,227.86 464.07,227.85 464.75,227.83 465.44,227.81 466.13,227.79 466.81,227.77 467.50,227.75 468.19,227.72 468.87,227.70 469.56,227.67 470.25,227.64 470.93,227.61 471.62,227.57 472.31,227.53 472.99,227.49 473.68,227.45 474.37,227.40 475.05,227.35 475.74,227.29 476.43,227.23 477.11,227.17 477.80,227.10 478.48,227.03 479.17,226.95 479.86,226.86 480.54,226.77 481.23,226.67 481.92,226.57 482.60,226.46 483.29,226.34 483.98,226.21 484.66,226.07 485.35,225.92 486.04,225.76 486.72,225.59 487.41,225.41 488.10,225.22 488.78,225.02 489.47,224.80 490.16,224.57 490.84,224.32 491.53,224.06 492.21,223.78 492.90,223.48 493.59,223.17 494.27,222.84 494.96,222.49 495.65,222.13 496.33,221.74 497.02,221.33 497.71,220.91 498.39,220.46 499.08,219.99 499.77,219.51 500.45,219.00 501.14,218.47 501.83,217.93 502.51,217.36 503.20,216.78 503.89,216.18 504.57,215.56 505.26,214.93 505.94,214.28 506.63,213.62 507.32,212.95 508.00,212.28 508.69,211.59 509.38,210.90 510.06,210.20 510.75,209.51 511.44,208.81 512.12,208.12 512.81,207.43 513.50,206.75 514.18,206.07 514.87,205.41 515.56,204.75 516.24,204.11 516.93,203.49 517.62,202.88 518.30,202.28 518.99,201.71 519.67,201.15 520.36,200.61 521.05,200.09 521.73,199.60 522.42,199.12 523.11,198.66 523.79,198.22 524.48,197.80 525.17,197.41 525.85,197.03 526.54,196.67 527.23,196.33 527.91,196.01 528.60,195.70 529.29,195.41 529.97,195.14 530.66,194.89 531.35,194.65 532.03,194.42 532.72,194.21 533.40,194.01 534.09,193.82 534.78,193.65 535.46,193.48 536.15,193.33 536.84,193.18 537.52,193.05 538.21,192.92" fill="none" stroke="#111" stroke-width="1.1"/>
<rect x="441.10" y="227.28" width="2.00" height="2.00" fill="#111" stroke="none" stroke-width="1"/>
<rect x="454.83" y="226.91" width="2.00" height="2.00" fill="#111" stroke="none" stroke-width="1"/>
<rect x="468.56" y="226.54" width="2.00" height="2.00" fill="#111" stroke="none" stroke-width="1"/>
<rect x="482.29" y="225.05" width="2.00" height="2.00" fill="#111" stroke="none" stroke-width="1"/>
<line x1="497.02" y1="221.22" x2="497.02" y2="222.33" stroke="#111" stroke-width="0.9"/>
<line x1="495.82" y1="221.22" x2="498.22" y2="221.22" stroke="#111" stroke-width="0.9"/>
<line x1="495.82" y1="222.33" x2="498.22" y2="222.33" stroke="#111" stroke-width="0.9"/>
<rect x="496.02" y="220.77" width="2.00" height="2.00" fill="#111" stroke="none" stroke-width="1"/>
<line x1="510.75" y1="208.20" x2="510.75" y2="210.06" stroke="#111" stroke-width="0.9"/>
<line x1="509.55" y1="208.20" x2="511.95" y2="208.20" stroke="#111" stroke-width="0.9"/>
<line x1="509.55" y1="210.06" x2="511.95" y2="210.06" stroke="#111" stroke-width="0.9"/>
<rect x="509.75" y="208.13" width="2.00" height="2.00" fill="#111" stroke="none" stroke-width="1"/>
<line x1="524.48" y1="196.85" x2="524.48" y2="199.45" stroke="#111" stroke-width="0.9"/>
<line x1="523.28" y1="196.85" x2="525.68" y2="196.85" stroke="#111" stroke-width="0.9"/>
<line x1="523.28" y1="199.45" x2="525.68" y2="199.45" stroke="#111" stroke-width="0.9"/>
<rect x="523.48" y="197.15" width="2.00" height="2.00" fill="#111" stroke="none" stroke-width="1"/>
<line x1="538.21" y1="191.64" x2="538.21" y2="193.87" stroke="#111" stroke-width="0.9"/>
<line x1="537.01" y1="191.64" x2="539.41" y2="191.64" stroke="#111" stroke-width="0.9"/>
<line x1="537.01" y1="193.87" x2="539.41" y2="193.87" stroke="#111" stroke-width="0.9"/>
<rect x="537.21" y="191.76" width="2.00" height="2.00" fill="#111" stroke="none" stroke-width="1"/>
<line x1="445.90" y1="158.00" x2="454.60" y2="158.00" stroke="#111" stroke-width="1.2"/>
<text x="459.10" y="160.30" font-size="7.3" font-weight="bold" text-anchor="start" fill="#222" stroke="#222" stroke-width="0.22">SW620</text>
<line x1="445.90" y1="166.25" x2="454.60" y2="166.25" stroke="#f7941d" stroke-width="1.2"/>
<text x="459.10" y="168.55" font-size="7.3" font-weight="bold" text-anchor="start" fill="#222" stroke="#222" stroke-width="0.22">SW620-pCDH</text>
<line x1="445.90" y1="174.50" x2="454.60" y2="174.50" stroke="#ee1c1c" stroke-width="1.6"/>
<text x="459.10" y="176.80" font-size="7.3" font-weight="bold" text-anchor="start" fill="#222" stroke="#222" stroke-width="0.22">SW620-ANXA1</text>
<polyline points="539.40,164.50 541.00,164.50 541.00,188.70 539.40,188.70" fill="none" stroke="#333" stroke-width="1.1"/>
<text x="0.00" y="0.00" font-size="6.6" font-weight="bold" text-anchor="middle" fill="#222" transform="translate(542.40,176.60) rotate(90)" letter-spacing="0.6">***</text>
<text x="0.00" y="0.00" font-size="8.2" font-weight="bold" text-anchor="middle" fill="#222" transform="translate(427.40,189.50) rotate(-90)" stroke="#222" stroke-width="0.22">The number of cells (1×10 <tspan dy="-3" font-size="5.5">5</tspan><tspan dy="3">)</tspan></text>
<line x1="288.70" y1="274.90" x2="537.00" y2="274.90" stroke="#222" stroke-width="1.5"/>
<line x1="288.70" y1="290.10" x2="537.00" y2="290.10" stroke="#222" stroke-width="1"/>
<line x1="288.70" y1="421.30" x2="537.00" y2="421.30" stroke="#222" stroke-width="1.8"/>
<text x="338.20" y="285.70" font-size="8" font-weight="bold" text-anchor="middle" fill="#111" stroke="#111" stroke-width="0.22">Cell Type</text>
<text x="423.40" y="285.70" font-size="8" font-weight="bold" text-anchor="middle" fill="#111" stroke="#111" stroke-width="0.22">r</text>
<text x="499.00" y="285.70" font-size="8" font-weight="bold" text-anchor="middle" fill="#111" stroke="#111" stroke-width="0.22">PDT/hrs</text>
<text x="338.20" y="301.10" font-size="8" font-weight="normal" text-anchor="middle" fill="#222" stroke="#222" stroke-width="0.12">HCT116</text>
<text x="397.40" y="301.10" font-size="8" font-weight="normal" text-anchor="start" fill="#222" stroke="#222" stroke-width="0.12">0.0511<tspan dx="1.5" font-size="10.4">±</tspan><tspan dx="1.3">0.0003</tspan></text>
<text x="470.40" y="301.10" font-size="8" font-weight="normal" text-anchor="start" fill="#222" stroke="#222" stroke-width="0.12">19.5787<tspan dx="1.5" font-size="10.4">±</tspan><tspan dx="1.3">0.1262</tspan></text>
<text x="338.20" y="314.18" font-size="8" font-weight="normal" text-anchor="middle" fill="#222" stroke="#222" stroke-width="0.12">HCT116-shControl</text>
<text x="397.40" y="314.18" font-size="8" font-weight="normal" text-anchor="start" fill="#222" stroke="#222" stroke-width="0.12">0.0522<tspan dx="1.5" font-size="10.4">±</tspan><tspan dx="1.3">0.0002</tspan></text>
<text x="470.40" y="314.18" font-size="8" font-weight="normal" text-anchor="start" fill="#222" stroke="#222" stroke-width="0.12">19.1639<tspan dx="1.5" font-size="10.4">±</tspan><tspan dx="1.3">0.0712</tspan></text>
<text x="338.20" y="327.26" font-size="8" font-weight="normal" text-anchor="middle" fill="#222" stroke="#222" stroke-width="0.12">HCT116-shANXA1</text>
<text x="397.40" y="327.26" font-size="8" font-weight="normal" text-anchor="start" fill="#222" stroke="#222" stroke-width="0.12">0.0405<tspan dx="1.5" font-size="10.4">±</tspan><tspan dx="1.3">0.0009</tspan></text>
<text x="470.40" y="327.26" font-size="8" font-weight="normal" text-anchor="start" fill="#222" stroke="#222" stroke-width="0.12">24.7660<tspan dx="1.5" font-size="10.4">±</tspan><tspan dx="1.3">0.5648</tspan></text>
<text x="338.20" y="340.34" font-size="8" font-weight="normal" text-anchor="middle" fill="#222" stroke="#222" stroke-width="0.12">HCT116-pCDH</text>
<text x="397.40" y="340.34" font-size="8" font-weight="normal" text-anchor="start" fill="#222" stroke="#222" stroke-width="0.12">0.0498<tspan dx="1.5" font-size="10.4">±</tspan><tspan dx="1.3">0.0003</tspan></text>
<text x="470.40" y="340.34" font-size="8" font-weight="normal" text-anchor="start" fill="#222" stroke="#222" stroke-width="0.12">20.1029<tspan dx="1.5" font-size="10.4">±</tspan><tspan dx="1.3">0.1381</tspan></text>
<text x="338.20" y="353.42" font-size="8" font-weight="normal" text-anchor="middle" fill="#222" stroke="#222" stroke-width="0.12">HCT116-ANXA1</text>
<text x="397.40" y="353.42" font-size="8" font-weight="normal" text-anchor="start" fill="#222" stroke="#222" stroke-width="0.12">0.0541<tspan dx="1.5" font-size="10.4">±</tspan><tspan dx="1.3">0.0006</tspan></text>
<text x="470.40" y="353.42" font-size="8" font-weight="normal" text-anchor="start" fill="#222" stroke="#222" stroke-width="0.12">18.5057<tspan dx="1.5" font-size="10.4">±</tspan><tspan dx="1.3">0.1955</tspan></text>
<text x="338.20" y="366.50" font-size="8" font-weight="normal" text-anchor="middle" fill="#222" stroke="#222" stroke-width="0.12">SW620</text>
<text x="397.40" y="366.50" font-size="8" font-weight="normal" text-anchor="start" fill="#222" stroke="#222" stroke-width="0.12">0.0499<tspan dx="1.5" font-size="10.4">±</tspan><tspan dx="1.3">0.0002</tspan></text>
<text x="470.40" y="366.50" font-size="8" font-weight="normal" text-anchor="start" fill="#222" stroke="#222" stroke-width="0.12">20.0299<tspan dx="1.5" font-size="10.4">±</tspan><tspan dx="1.3">0.0973</tspan></text>
<text x="338.20" y="379.58" font-size="8" font-weight="normal" text-anchor="middle" fill="#222" stroke="#222" stroke-width="0.12">SW620-shControl</text>
<text x="397.40" y="379.58" font-size="8" font-weight="normal" text-anchor="start" fill="#222" stroke="#222" stroke-width="0.12">0.0507<tspan dx="1.5" font-size="10.4">±</tspan><tspan dx="1.3">0.0004</tspan></text>
<text x="470.40" y="379.58" font-size="8" font-weight="normal" text-anchor="start" fill="#222" stroke="#222" stroke-width="0.12">19.7475<tspan dx="1.5" font-size="10.4">±</tspan><tspan dx="1.3">0..1640</tspan></text>
<text x="338.20" y="392.66" font-size="8" font-weight="normal" text-anchor="middle" fill="#222" stroke="#222" stroke-width="0.12">SW620-shANXA1</text>
<text x="397.40" y="392.66" font-size="8" font-weight="normal" text-anchor="start" fill="#222" stroke="#222" stroke-width="0.12">0.0470<tspan dx="1.5" font-size="10.4">±</tspan><tspan dx="1.3">0.0002</tspan></text>
<text x="470.40" y="392.66" font-size="8" font-weight="normal" text-anchor="start" fill="#222" stroke="#222" stroke-width="0.12">21.2954<tspan dx="1.5" font-size="10.4">±</tspan><tspan dx="1.3">0.0686</tspan></text>
<text x="338.20" y="405.74" font-size="8" font-weight="normal" text-anchor="middle" fill="#222" stroke="#222" stroke-width="0.12">SW620-pCDH</text>
<text x="397.40" y="405.74" font-size="8" font-weight="normal" text-anchor="start" fill="#222" stroke="#222" stroke-width="0.12">0.0505<tspan dx="1.5" font-size="10.4">±</tspan><tspan dx="1.3">0.0007</tspan></text>
<text x="470.40" y="405.74" font-size="8" font-weight="normal" text-anchor="start" fill="#222" stroke="#222" stroke-width="0.12">19.8278<tspan dx="1.5" font-size="10.4">±</tspan><tspan dx="1.3">0.2732</tspan></text>
<text x="338.20" y="418.82" font-size="8" font-weight="normal" text-anchor="middle" fill="#222" stroke="#222" stroke-width="0.12">SW620-ANXA1</text>
<text x="397.40" y="418.82" font-size="8" font-weight="normal" text-anchor="start" fill="#222" stroke="#222" stroke-width="0.12">0.0544<tspan dx="1.5" font-size="10.4">±</tspan><tspan dx="1.3">0.0003</tspan></text>
<text x="470.40" y="418.82" font-size="8" font-weight="normal" text-anchor="start" fill="#222" stroke="#222" stroke-width="0.12">18.3750<tspan dx="1.5" font-size="10.4">±</tspan><tspan dx="1.3">0.1019</tspan></text>
</svg>
</body></html>
